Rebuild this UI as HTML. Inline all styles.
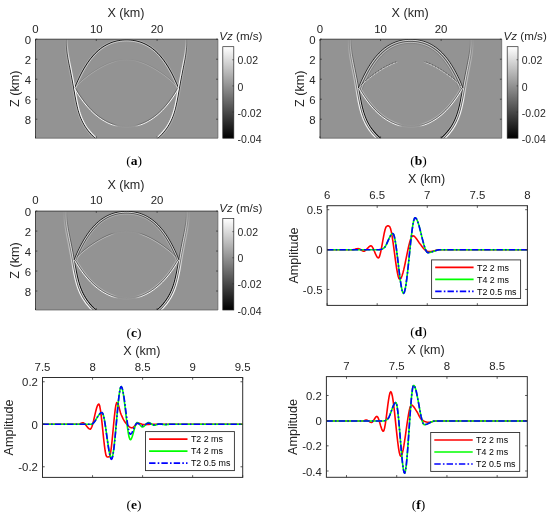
<!DOCTYPE html>
<html><head><meta charset="utf-8"><title>Figure</title>
<style>html,body{margin:0;padding:0;background:#fff}svg{display:block}.tk{font-family:"Liberation Sans", Arial, Helvetica, sans-serif;font-size:11.4px;fill:#262626}.ck{font-family:"Liberation Sans", Arial, Helvetica, sans-serif;font-size:10.5px;fill:#262626}.ct{font-family:"Liberation Sans", Arial, Helvetica, sans-serif;font-size:11.6px;fill:#262626}.lb{font-family:"Liberation Sans", Arial, Helvetica, sans-serif;font-size:12.6px;fill:#262626}.lg{font-family:"Liberation Sans", Arial, Helvetica, sans-serif;font-size:8.9px;fill:#000}.cap{font-family:"Liberation Serif", "Times New Roman", serif;font-size:13.5px;fill:#000}</style></head><body>
<svg width="550" height="516" viewBox="0 0 550 516">
<rect width="550" height="516" fill="#fff"/>
<defs><linearGradient id="cbg" x1="0" y1="0" x2="0" y2="1"><stop offset="0" stop-color="#fff"/><stop offset="1" stop-color="#000"/></linearGradient></defs>
<clipPath id="clip1"><rect x="35.5" y="39.2" width="182.4" height="99"/></clipPath>
<rect x="35.5" y="39.2" width="182.4" height="99" fill="#939393"/>
<g clip-path="url(#clip1)" fill="none">
<path d="M73.64 88.14 L73.69 88.03 L73.81 87.72 L74.03 87.2 L74.32 86.48 L74.7 85.56 L75.16 84.47 L75.71 83.2 L76.34 81.77 L77.04 80.2 L77.83 78.5 L78.7 76.69 L79.64 74.79 L80.66 72.81 L81.75 70.77 L82.92 68.69 L84.15 66.59 L85.46 64.5 L86.83 62.41 L88.27 60.36 L89.77 58.36 L91.33 56.41 L92.95 54.54 L94.63 52.76 L96.36 51.07 L98.14 49.48 L99.97 48 L101.84 46.63 L103.76 45.38 L105.71 44.24 L107.7 43.23 L109.72 42.33 L111.76 41.55 L113.83 40.88 L115.92 40.32 L118.03 39.86 L120.15 39.51 L122.28 39.27 L124.41 39.12 L126.55 39.07 L128.69 39.12 L130.82 39.27 L132.95 39.51 L135.07 39.86 L137.18 40.32 L139.27 40.88 L141.34 41.55 L143.38 42.33 L145.4 43.23 L147.39 44.24 L149.34 45.38 L151.26 46.63 L153.13 48 L154.96 49.48 L156.74 51.07 L158.47 52.76 L160.15 54.54 L161.77 56.41 L163.33 58.36 L164.83 60.36 L166.27 62.41 L167.64 64.5 L168.95 66.59 L170.18 68.69 L171.35 70.77 L172.44 72.81 L173.46 74.79 L174.4 76.69 L175.27 78.5 L176.06 80.2 L176.76 81.77 L177.39 83.2 L177.94 84.47 L178.4 85.56 L178.78 86.48 L179.07 87.2 L179.29 87.72 L179.41 88.03 L179.46 88.14" stroke="#fff" stroke-width="0.6" stroke-opacity="0.45"/>
<path d="M74.48 88.47 L74.52 88.37 L74.65 88.05 L74.86 87.54 L75.15 86.82 L75.53 85.91 L75.99 84.82 L76.53 83.56 L77.16 82.14 L77.86 80.58 L78.65 78.89 L79.51 77.08 L80.44 75.19 L81.45 73.22 L82.54 71.2 L83.7 69.14 L84.92 67.06 L86.22 64.98 L87.57 62.92 L89 60.89 L90.48 58.91 L92.02 56.99 L93.62 55.14 L95.27 53.39 L96.97 51.72 L98.72 50.16 L100.51 48.71 L102.35 47.37 L104.23 46.14 L106.14 45.03 L108.09 44.04 L110.06 43.16 L112.06 42.39 L114.09 41.74 L116.13 41.19 L118.2 40.75 L120.27 40.4 L122.36 40.16 L124.45 40.02 L126.55 39.97 L128.65 40.02 L130.74 40.16 L132.83 40.4 L134.9 40.75 L136.97 41.19 L139.01 41.74 L141.04 42.39 L143.04 43.16 L145.01 44.04 L146.96 45.03 L148.87 46.14 L150.75 47.37 L152.59 48.71 L154.38 50.16 L156.13 51.72 L157.83 53.39 L159.48 55.14 L161.08 56.99 L162.62 58.91 L164.1 60.89 L165.53 62.92 L166.88 64.98 L168.18 67.06 L169.4 69.14 L170.56 71.2 L171.65 73.22 L172.66 75.19 L173.59 77.08 L174.45 78.89 L175.24 80.58 L175.94 82.14 L176.57 83.56 L177.11 84.82 L177.57 85.91 L177.95 86.82 L178.24 87.54 L178.45 88.05 L178.58 88.37 L178.62 88.47" stroke="#000" stroke-width="1" stroke-opacity="0.85"/>
<path d="M75.31 88.81 L75.36 88.71 L75.48 88.39 L75.69 87.88 L75.98 87.16 L76.36 86.26 L76.82 85.17 L77.36 83.92 L77.98 82.5 L78.68 80.95 L79.46 79.27 L80.32 77.48 L81.25 75.6 L82.25 73.64 L83.33 71.63 L84.48 69.59 L85.69 67.53 L86.97 65.47 L88.32 63.42 L89.72 61.42 L91.19 59.46 L92.71 57.56 L94.29 55.75 L95.91 54.02 L97.58 52.38 L99.3 50.85 L101.06 49.42 L102.86 48.11 L104.7 46.91 L106.57 45.82 L108.47 44.85 L110.4 43.99 L112.36 43.24 L114.34 42.6 L116.35 42.07 L118.37 41.63 L120.4 41.3 L122.44 41.06 L124.49 40.92 L126.55 40.87 L128.61 40.92 L130.66 41.06 L132.7 41.3 L134.74 41.63 L136.75 42.07 L138.76 42.6 L140.74 43.24 L142.7 43.99 L144.63 44.85 L146.53 45.82 L148.4 46.91 L150.24 48.11 L152.04 49.42 L153.8 50.85 L155.52 52.38 L157.19 54.02 L158.81 55.75 L160.39 57.56 L161.91 59.46 L163.38 61.42 L164.78 63.42 L166.13 65.47 L167.41 67.53 L168.62 69.59 L169.77 71.63 L170.85 73.64 L171.85 75.6 L172.78 77.48 L173.64 79.27 L174.42 80.95 L175.12 82.5 L175.74 83.92 L176.28 85.17 L176.74 86.26 L177.12 87.16 L177.41 87.88 L177.62 88.39 L177.75 88.71 L177.79 88.81" stroke="#fff" stroke-width="0.8" stroke-opacity="0.7"/>
<linearGradient id="sw1" gradientUnits="userSpaceOnUse" x1="0" y1="39.2" x2="0" y2="138.2">
<stop offset="0" stop-color="#fff" stop-opacity="0.12"/>
<stop offset="0.1" stop-color="#fff" stop-opacity="0.5"/>
<stop offset="0.22" stop-color="#fff" stop-opacity="0.85"/>
<stop offset="0.45" stop-color="#fff" stop-opacity="1"/>
<stop offset="1" stop-color="#fff" stop-opacity="1"/>
</linearGradient>
<linearGradient id="sb1" gradientUnits="userSpaceOnUse" x1="0" y1="39.2" x2="0" y2="138.2">
<stop offset="0" stop-color="#000" stop-opacity="0.12"/>
<stop offset="0.1" stop-color="#000" stop-opacity="0.5"/>
<stop offset="0.22" stop-color="#000" stop-opacity="0.85"/>
<stop offset="0.45" stop-color="#000" stop-opacity="1"/>
<stop offset="1" stop-color="#000" stop-opacity="1"/>
</linearGradient>
<linearGradient id="sx1" gradientUnits="userSpaceOnUse" x1="0" y1="39.2" x2="0" y2="138.2">
<stop offset="0" stop-color="#fff" stop-opacity="0.03"/>
<stop offset="0.2" stop-color="#fff" stop-opacity="0.3"/>
<stop offset="0.48" stop-color="#fff" stop-opacity="0.5"/>
<stop offset="0.62" stop-color="#fff" stop-opacity="0.95"/>
<stop offset="1" stop-color="#fff" stop-opacity="1"/>
</linearGradient>
<path d="M65.41 39.15 L65.31 41.2 L65.3 43.27 L65.37 45.34 L65.5 47.4 L65.69 49.46 L65.93 51.51 L66.21 53.56 L66.53 55.6 L66.87 57.65 L67.24 59.69 L67.63 61.73 L68.02 63.76 L68.43 65.79 L68.84 67.83 L69.25 69.86 L69.66 71.89 L70.06 73.91 L70.46 75.94 L70.85 77.97 L71.24 80 L71.61 82.02 L71.98 84.05 L72.35 86.08 L72.7 88.11 L73.06 90.14 L73.41 92.17 L73.77 94.2 L74.13 96.24 L74.51 98.27 L74.89 100.31 L75.3 102.35 L75.74 104.39 L76.2 106.44 L76.7 108.49 L77.25 110.54 L77.86 112.6 L78.52 114.65 L79.26 116.72 L80.07 118.78 L80.98 120.84 L81.99 122.91 L83.11 124.98 L84.35 127.05 L85.73 129.12 L87.25 131.19 L88.94 133.26 L90.79 135.33 L92.84 137.39 L95.06 139.44" stroke="url(#sw1)" stroke-width="0.6" stroke-opacity="0.4"/>
<path d="M66.41 39.2 L66.31 41.23 L66.3 43.26 L66.37 45.29 L66.5 47.32 L66.68 49.35 L66.92 51.38 L67.2 53.41 L67.51 55.44 L67.86 57.48 L68.22 59.51 L68.61 61.54 L69 63.57 L69.41 65.6 L69.82 67.63 L70.23 69.66 L70.64 71.69 L71.04 73.72 L71.44 75.75 L71.83 77.78 L72.22 79.81 L72.6 81.84 L72.97 83.87 L73.33 85.9 L73.69 87.93 L74.04 89.97 L74.4 92 L74.76 94.03 L75.12 96.06 L75.49 98.09 L75.88 100.12 L76.28 102.15 L76.71 104.18 L77.17 106.21 L77.67 108.24 L78.22 110.27 L78.81 112.3 L79.47 114.33 L80.19 116.36 L81 118.39 L81.89 120.42 L82.88 122.46 L83.98 124.49 L85.2 126.52 L86.55 128.55 L88.04 130.58 L89.7 132.61 L91.52 134.64 L93.53 136.67 L95.74 138.7" stroke="url(#sb1)" stroke-width="0.9" stroke-opacity="0.85"/>
<path d="M67.41 39.25 L67.31 41.26 L67.3 43.25 L67.36 45.24 L67.49 47.24 L67.68 49.25 L67.91 51.26 L68.19 53.27 L68.5 55.28 L68.84 57.3 L69.21 59.32 L69.59 61.35 L69.99 63.37 L70.39 65.4 L70.8 67.43 L71.21 69.46 L71.62 71.49 L72.02 73.53 L72.42 75.56 L72.82 77.59 L73.2 79.63 L73.58 81.66 L73.95 83.7 L74.31 85.73 L74.67 87.76 L75.03 89.79 L75.38 91.82 L75.74 93.85 L76.1 95.88 L76.47 97.9 L76.86 99.93 L77.26 101.95 L77.69 103.97 L78.15 105.98 L78.64 107.99 L79.18 110 L79.77 112.01 L80.41 114.01 L81.13 116.01 L81.92 118.01 L82.8 120 L83.77 122 L84.85 123.99 L86.04 125.98 L87.37 127.97 L88.83 129.96 L90.46 131.96 L92.25 133.95 L94.22 135.95 L96.41 137.96" stroke="url(#sw1)" stroke-width="1.1" stroke-opacity="0.95"/>
<path d="M187.69 39.15 L187.79 41.2 L187.8 43.27 L187.73 45.34 L187.6 47.4 L187.41 49.46 L187.17 51.51 L186.89 53.56 L186.57 55.6 L186.23 57.65 L185.86 59.69 L185.47 61.73 L185.08 63.76 L184.67 65.79 L184.26 67.83 L183.85 69.86 L183.44 71.89 L183.04 73.91 L182.64 75.94 L182.25 77.97 L181.86 80 L181.49 82.02 L181.12 84.05 L180.75 86.08 L180.4 88.11 L180.04 90.14 L179.69 92.17 L179.33 94.2 L178.97 96.24 L178.59 98.27 L178.21 100.31 L177.8 102.35 L177.36 104.39 L176.9 106.44 L176.4 108.49 L175.85 110.54 L175.24 112.6 L174.58 114.65 L173.84 116.72 L173.03 118.78 L172.12 120.84 L171.11 122.91 L169.99 124.98 L168.75 127.05 L167.37 129.12 L165.85 131.19 L164.16 133.26 L162.31 135.33 L160.26 137.39 L158.04 139.44" stroke="url(#sw1)" stroke-width="0.6" stroke-opacity="0.4"/>
<path d="M186.69 39.2 L186.79 41.23 L186.8 43.26 L186.74 45.29 L186.6 47.32 L186.42 49.35 L186.18 51.38 L185.9 53.41 L185.59 55.44 L185.24 57.48 L184.88 59.51 L184.49 61.54 L184.1 63.57 L183.69 65.6 L183.28 67.63 L182.87 69.66 L182.46 71.69 L182.06 73.72 L181.66 75.75 L181.27 77.78 L180.88 79.81 L180.5 81.84 L180.13 83.87 L179.77 85.9 L179.41 87.93 L179.06 89.97 L178.7 92 L178.35 94.03 L177.98 96.06 L177.61 98.09 L177.22 100.12 L176.82 102.15 L176.39 104.18 L175.93 106.21 L175.43 108.24 L174.88 110.27 L174.29 112.3 L173.63 114.33 L172.91 116.36 L172.1 118.39 L171.21 120.42 L170.22 122.46 L169.12 124.49 L167.9 126.52 L166.55 128.55 L165.06 130.58 L163.4 132.61 L161.58 134.64 L159.57 136.67 L157.36 138.7" stroke="url(#sb1)" stroke-width="0.9" stroke-opacity="0.85"/>
<path d="M185.69 39.25 L185.79 41.26 L185.8 43.25 L185.74 45.24 L185.61 47.24 L185.42 49.25 L185.19 51.26 L184.91 53.27 L184.6 55.28 L184.26 57.3 L183.89 59.32 L183.51 61.35 L183.11 63.37 L182.71 65.4 L182.3 67.43 L181.89 69.46 L181.48 71.49 L181.08 73.53 L180.68 75.56 L180.28 77.59 L179.9 79.63 L179.52 81.66 L179.15 83.7 L178.79 85.73 L178.43 87.76 L178.07 89.79 L177.72 91.82 L177.36 93.85 L177 95.88 L176.63 97.9 L176.24 99.93 L175.84 101.95 L175.41 103.97 L174.95 105.98 L174.46 107.99 L173.92 110 L173.33 112.01 L172.69 114.01 L171.97 116.01 L171.18 118.01 L170.3 120 L169.33 122 L168.25 123.99 L167.06 125.98 L165.73 127.97 L164.27 129.96 L162.64 131.96 L160.85 133.95 L158.88 135.95 L156.69 137.96" stroke="url(#sw1)" stroke-width="1.1" stroke-opacity="0.95"/>
</g>
<linearGradient id="uw1" gradientUnits="userSpaceOnUse" x1="74.48" y1="0" x2="178.62" y2="0">
<stop offset="0" stop-color="#fff" stop-opacity="0.9"/>
<stop offset="0.25" stop-color="#fff" stop-opacity="0.6"/>
<stop offset="0.36" stop-color="#fff" stop-opacity="0.5"/>
<stop offset="0.42" stop-color="#fff" stop-opacity="0.15"/>
<stop offset="0.58" stop-color="#fff" stop-opacity="0.15"/>
<stop offset="0.64" stop-color="#fff" stop-opacity="0.5"/>
<stop offset="0.75" stop-color="#fff" stop-opacity="0.6"/>
<stop offset="1" stop-color="#fff" stop-opacity="0.9"/>
</linearGradient>
<linearGradient id="ub1" gradientUnits="userSpaceOnUse" x1="74.48" y1="0" x2="178.62" y2="0">
<stop offset="0" stop-color="#000" stop-opacity="0.9"/>
<stop offset="0.25" stop-color="#000" stop-opacity="0.6"/>
<stop offset="0.36" stop-color="#000" stop-opacity="0.5"/>
<stop offset="0.42" stop-color="#000" stop-opacity="0.15"/>
<stop offset="0.58" stop-color="#000" stop-opacity="0.15"/>
<stop offset="0.64" stop-color="#000" stop-opacity="0.5"/>
<stop offset="0.75" stop-color="#000" stop-opacity="0.6"/>
<stop offset="1" stop-color="#000" stop-opacity="0.9"/>
</linearGradient>
<linearGradient id="lw1" gradientUnits="userSpaceOnUse" x1="74.48" y1="0" x2="178.62" y2="0">
<stop offset="0" stop-color="#fff" stop-opacity="1"/>
<stop offset="0.36" stop-color="#fff" stop-opacity="0.9"/>
<stop offset="0.42" stop-color="#fff" stop-opacity="0.05"/>
<stop offset="0.58" stop-color="#fff" stop-opacity="0.05"/>
<stop offset="0.64" stop-color="#fff" stop-opacity="0.9"/>
<stop offset="1" stop-color="#fff" stop-opacity="1"/>
</linearGradient>
<linearGradient id="lb1" gradientUnits="userSpaceOnUse" x1="74.48" y1="0" x2="178.62" y2="0">
<stop offset="0" stop-color="#000" stop-opacity="1"/>
<stop offset="0.36" stop-color="#000" stop-opacity="0.9"/>
<stop offset="0.42" stop-color="#000" stop-opacity="0.05"/>
<stop offset="0.58" stop-color="#000" stop-opacity="0.05"/>
<stop offset="0.64" stop-color="#000" stop-opacity="0.9"/>
<stop offset="1" stop-color="#000" stop-opacity="1"/>
</linearGradient>
<g clip-path="url(#clip1)" fill="none">
<path d="M74.48 88.52 L74.55 88.44 L74.78 88.17 L75.16 87.73 L75.7 87.13 L76.38 86.37 L77.2 85.49 L78.18 84.48 L79.29 83.38 L80.54 82.19 L81.93 80.93 L83.45 79.61 L85.1 78.24 L86.86 76.85 L88.75 75.42 L90.74 73.98 L92.84 72.53 L95.04 71.09 L97.33 69.66 L99.7 68.26 L102.16 66.91 L104.69 65.62 L107.28 64.41 L109.92 63.31 L112.62 62.33 L115.36 61.5 L118.13 60.84 L120.92 60.35 L123.73 60.05 L126.55 59.95 L129.37 60.05 L132.18 60.35 L134.97 60.84 L137.74 61.5 L140.48 62.33 L143.18 63.31 L145.82 64.41 L148.41 65.62 L150.94 66.91 L153.4 68.26 L155.77 69.66 L158.06 71.09 L160.26 72.53 L162.36 73.98 L164.35 75.42 L166.24 76.85 L168 78.24 L169.65 79.61 L171.17 80.93 L172.56 82.19 L173.81 83.38 L174.92 84.48 L175.9 85.49 L176.72 86.37 L177.4 87.13 L177.94 87.73 L178.32 88.17 L178.55 88.44 L178.62 88.52" stroke="url(#uw1)" stroke-width="0.6" stroke-opacity="0.55"/>
<path d="M74.02 88.14 L74.1 88.05 L74.33 87.78 L74.71 87.33 L75.25 86.73 L75.94 85.97 L76.77 85.07 L77.75 84.06 L78.87 82.95 L80.14 81.75 L81.53 80.48 L83.06 79.15 L84.72 77.78 L86.5 76.37 L88.39 74.94 L90.39 73.49 L92.5 72.03 L94.71 70.58 L97.02 69.15 L99.41 67.74 L101.88 66.38 L104.42 65.08 L107.03 63.86 L109.71 62.75 L112.43 61.77 L115.2 60.93 L118 60.25 L120.84 59.75 L123.69 59.45 L126.55 59.35 L129.41 59.45 L132.26 59.75 L135.1 60.25 L137.9 60.93 L140.67 61.77 L143.39 62.75 L146.07 63.86 L148.68 65.08 L151.22 66.38 L153.69 67.74 L156.08 69.15 L158.39 70.58 L160.6 72.03 L162.71 73.49 L164.71 74.94 L166.6 76.37 L168.38 77.78 L170.04 79.15 L171.57 80.48 L172.96 81.75 L174.23 82.95 L175.35 84.06 L176.33 85.07 L177.16 85.97 L177.85 86.73 L178.39 87.33 L178.77 87.78 L179 88.05 L179.08 88.14" stroke="url(#ub1)" stroke-width="0.5" stroke-opacity="0.3"/>
<path d="M74.48 88.23 L74.55 88.37 L74.78 88.76 L75.16 89.42 L75.7 90.32 L76.38 91.45 L77.2 92.8 L78.18 94.34 L79.29 96.05 L80.54 97.9 L81.93 99.86 L83.45 101.91 L85.1 104.02 L86.86 106.16 L88.75 108.29 L90.74 110.41 L92.84 112.47 L95.04 114.46 L97.33 116.35 L99.7 118.14 L102.16 119.79 L104.69 121.3 L107.28 122.66 L109.92 123.86 L112.62 124.88 L115.36 125.72 L118.13 126.38 L120.92 126.86 L123.73 127.15 L126.55 127.24 L129.37 127.15 L132.18 126.86 L134.97 126.38 L137.74 125.72 L140.48 124.88 L143.18 123.86 L145.82 122.66 L148.41 121.3 L150.94 119.79 L153.4 118.14 L155.77 116.35 L158.06 114.46 L160.26 112.47 L162.36 110.41 L164.35 108.29 L166.24 106.16 L168 104.02 L169.65 101.91 L171.17 99.86 L172.56 97.9 L173.81 96.05 L174.92 94.34 L175.9 92.8 L176.72 91.45 L177.4 90.32 L177.94 89.42 L178.32 88.76 L178.55 88.37 L178.62 88.23" stroke="url(#lw1)" stroke-width="1.0" stroke-opacity="1"/>
<path d="M75.26 87.78 L75.34 87.92 L75.56 88.31 L75.94 88.96 L76.47 89.86 L77.15 90.99 L77.97 92.33 L78.93 93.86 L80.04 95.55 L81.28 97.39 L82.66 99.34 L84.17 101.37 L85.8 103.46 L87.55 105.57 L89.41 107.69 L91.38 109.78 L93.46 111.81 L95.63 113.78 L97.89 115.65 L100.23 117.4 L102.64 119.03 L105.13 120.52 L107.67 121.85 L110.27 123.03 L112.91 124.03 L115.59 124.85 L118.31 125.5 L121.04 125.97 L123.79 126.25 L126.55 126.34 L129.31 126.25 L132.06 125.97 L134.79 125.5 L137.51 124.85 L140.19 124.03 L142.83 123.03 L145.43 121.85 L147.97 120.52 L150.46 119.03 L152.87 117.4 L155.21 115.65 L157.47 113.78 L159.64 111.81 L161.72 109.78 L163.69 107.69 L165.55 105.57 L167.3 103.46 L168.93 101.37 L170.44 99.34 L171.82 97.39 L173.06 95.55 L174.17 93.86 L175.13 92.33 L175.95 90.99 L176.63 89.86 L177.16 88.96 L177.54 88.31 L177.77 87.92 L177.84 87.78" stroke="url(#lb1)" stroke-width="0.6" stroke-opacity="0.55"/>
</g>
<path d="M35.5 138.2 H217.9 V39.2" fill="none" stroke="#5a5a5a" stroke-width="0.7"/>
<path d="M35.5 138.2 V39.2 H217.9" fill="none" stroke="#262626" stroke-width="0.8"/>
<path d="M35.5 39.2 v1.8 M35.5 138.2 v-1.8" stroke="#262626" stroke-width="0.7"/>
<text x="35.5" y="32.5" text-anchor="middle" class="tk">0</text>
<path d="M96.3 39.2 v1.8 M96.3 138.2 v-1.8" stroke="#262626" stroke-width="0.7"/>
<text x="96.3" y="32.5" text-anchor="middle" class="tk">10</text>
<path d="M157.1 39.2 v1.8 M157.1 138.2 v-1.8" stroke="#262626" stroke-width="0.7"/>
<text x="157.1" y="32.5" text-anchor="middle" class="tk">20</text>
<path d="M35.5 39.2 h1.8 M217.9 39.2 h-1.8" stroke="#262626" stroke-width="0.7"/>
<text x="31.2" y="44" text-anchor="end" class="tk">0</text>
<path d="M35.5 59.2 h1.8 M217.9 59.2 h-1.8" stroke="#262626" stroke-width="0.7"/>
<text x="31.2" y="64" text-anchor="end" class="tk">2</text>
<path d="M35.5 79.2 h1.8 M217.9 79.2 h-1.8" stroke="#262626" stroke-width="0.7"/>
<text x="31.2" y="84" text-anchor="end" class="tk">4</text>
<path d="M35.5 99.2 h1.8 M217.9 99.2 h-1.8" stroke="#262626" stroke-width="0.7"/>
<text x="31.2" y="104" text-anchor="end" class="tk">6</text>
<path d="M35.5 119.2 h1.8 M217.9 119.2 h-1.8" stroke="#262626" stroke-width="0.7"/>
<text x="31.2" y="124" text-anchor="end" class="tk">8</text>
<text x="126" y="16.7" text-anchor="middle" class="lb">X (km)</text>
<text transform="translate(19.3 88.7) rotate(-90)" text-anchor="middle" class="lb">Z (km)</text>
<rect x="222.8" y="46.7" width="11" height="91.5" fill="url(#cbg)" stroke="#262626" stroke-width="0.7"/>
<text x="237.6" y="64.37" class="ck">0.02</text>
<path d="M233.8 59.77 h-1.5" stroke="#262626" stroke-width="0.6"/>
<text x="237.6" y="90.51" class="ck">0</text>
<path d="M233.8 85.91 h-1.5" stroke="#262626" stroke-width="0.6"/>
<text x="237.6" y="116.66" class="ck">-0.02</text>
<path d="M233.8 112.06 h-1.5" stroke="#262626" stroke-width="0.6"/>
<text x="237.6" y="142.8" class="ck">-0.04</text>
<text x="240.9" y="40.4" text-anchor="middle" class="ct"><tspan font-style="italic">Vz</tspan> (m/s)</text>
<clipPath id="clip2"><rect x="320" y="39.2" width="181.7" height="99"/></clipPath>
<rect x="320" y="39.2" width="181.7" height="99" fill="#939393"/>
<g clip-path="url(#clip2)" fill="none">
<path d="M358.27 88.25 L358.31 88.14 L358.44 87.83 L358.65 87.31 L358.95 86.59 L359.32 85.68 L359.78 84.59 L360.33 83.32 L360.95 81.9 L361.65 80.33 L362.44 78.63 L363.3 76.82 L364.23 74.92 L365.25 72.95 L366.33 70.91 L367.49 68.84 L368.72 66.75 L370.01 64.66 L371.38 62.58 L372.8 60.54 L374.29 58.54 L375.84 56.6 L377.45 54.74 L379.11 52.97 L380.82 51.29 L382.59 49.71 L384.4 48.23 L386.25 46.88 L388.15 45.63 L390.08 44.51 L392.05 43.5 L394.04 42.61 L396.07 41.83 L398.12 41.16 L400.18 40.61 L402.27 40.16 L404.36 39.81 L406.47 39.56 L408.58 39.42 L410.7 39.37 L412.82 39.42 L414.93 39.56 L417.04 39.81 L419.13 40.16 L421.22 40.61 L423.29 41.16 L425.33 41.83 L427.36 42.61 L429.35 43.5 L431.32 44.51 L433.25 45.63 L435.15 46.88 L437 48.23 L438.81 49.71 L440.58 51.29 L442.29 52.97 L443.95 54.74 L445.56 56.6 L447.11 58.54 L448.6 60.54 L450.02 62.58 L451.39 64.66 L452.68 66.75 L453.91 68.84 L455.07 70.91 L456.15 72.95 L457.17 74.92 L458.1 76.82 L458.96 78.63 L459.75 80.33 L460.45 81.9 L461.07 83.32 L461.62 84.59 L462.08 85.68 L462.46 86.59 L462.75 87.31 L462.96 87.83 L463.09 88.14 L463.13 88.25" stroke="#000" stroke-width="0.9" stroke-opacity="0.8"/>
<path d="M359.11 88.58 L359.15 88.48 L359.28 88.17 L359.49 87.65 L359.78 86.93 L360.15 86.03 L360.61 84.94 L361.15 83.68 L361.77 82.26 L362.47 80.7 L363.25 79.01 L364.11 77.22 L365.04 75.33 L366.04 73.36 L367.12 71.34 L368.27 69.29 L369.49 67.22 L370.77 65.14 L372.12 63.09 L373.53 61.06 L375.01 59.09 L376.53 57.18 L378.12 55.35 L379.75 53.6 L381.44 51.94 L383.17 50.39 L384.95 48.95 L386.77 47.62 L388.62 46.4 L390.51 45.3 L392.44 44.31 L394.39 43.44 L396.37 42.68 L398.37 42.03 L400.4 41.48 L402.44 41.04 L404.49 40.7 L406.55 40.46 L408.63 40.32 L410.7 40.27 L412.78 40.32 L414.85 40.46 L416.91 40.7 L418.97 41.04 L421.01 41.48 L423.03 42.03 L425.03 42.68 L427.01 43.44 L428.96 44.31 L430.89 45.3 L432.78 46.4 L434.64 47.62 L436.45 48.95 L438.23 50.39 L439.96 51.94 L441.65 53.6 L443.28 55.35 L444.87 57.18 L446.4 59.09 L447.87 61.06 L449.28 63.09 L450.63 65.14 L451.91 67.22 L453.13 69.29 L454.28 71.34 L455.36 73.36 L456.36 75.33 L457.29 77.22 L458.15 79.01 L458.93 80.7 L459.63 82.26 L460.25 83.68 L460.79 84.94 L461.25 86.03 L461.62 86.93 L461.92 87.65 L462.13 88.17 L462.25 88.48 L462.29 88.58" stroke="#fff" stroke-width="0.8" stroke-opacity="0.75"/>
<path d="M360.13 88.99 L360.17 88.89 L360.29 88.58 L360.5 88.07 L360.8 87.35 L361.17 86.45 L361.62 85.37 L362.16 84.12 L362.78 82.71 L363.47 81.16 L364.25 79.48 L365.1 77.7 L366.02 75.82 L367.02 73.87 L368.09 71.87 L369.23 69.84 L370.43 67.78 L371.7 65.73 L373.03 63.7 L374.43 61.71 L375.88 59.76 L377.38 57.88 L378.94 56.08 L380.54 54.36 L382.19 52.74 L383.89 51.23 L385.62 49.82 L387.39 48.52 L389.2 47.33 L391.04 46.26 L392.91 45.3 L394.81 44.45 L396.74 43.71 L398.69 43.08 L400.65 42.55 L402.64 42.12 L404.64 41.79 L406.66 41.56 L408.68 41.42 L410.7 41.37 L412.72 41.42 L414.74 41.56 L416.76 41.79 L418.76 42.12 L420.75 42.55 L422.72 43.08 L424.66 43.71 L426.59 44.45 L428.49 45.3 L430.36 46.26 L432.2 47.33 L434.01 48.52 L435.78 49.82 L437.52 51.23 L439.21 52.74 L440.86 54.36 L442.47 56.08 L444.02 57.88 L445.53 59.76 L446.98 61.71 L448.37 63.7 L449.7 65.73 L450.97 67.78 L452.18 69.84 L453.31 71.87 L454.38 73.87 L455.38 75.82 L456.3 77.7 L457.15 79.48 L457.93 81.16 L458.62 82.71 L459.24 84.12 L459.78 85.37 L460.23 86.45 L460.61 87.35 L460.9 88.07 L461.11 88.58 L461.23 88.89 L461.27 88.99" stroke="#000" stroke-width="0.7" stroke-opacity="0.6"/>
<path d="M361.06 89.37 L361.1 89.27 L361.22 88.96 L361.43 88.44 L361.72 87.73 L362.09 86.84 L362.55 85.76 L363.08 84.51 L363.69 83.11 L364.38 81.57 L365.15 79.9 L366 78.13 L366.91 76.27 L367.9 74.34 L368.97 72.35 L370.09 70.33 L371.29 68.3 L372.54 66.27 L373.86 64.26 L375.24 62.29 L376.67 60.37 L378.15 58.52 L379.68 56.75 L381.26 55.06 L382.88 53.47 L384.54 51.99 L386.23 50.61 L387.96 49.34 L389.73 48.18 L391.52 47.14 L393.34 46.2 L395.19 45.38 L397.07 44.66 L398.97 44.04 L400.89 43.52 L402.83 43.1 L404.78 42.78 L406.75 42.55 L408.72 42.41 L410.7 42.37 L412.68 42.41 L414.65 42.55 L416.62 42.78 L418.57 43.1 L420.51 43.52 L422.43 44.04 L424.33 44.66 L426.21 45.38 L428.06 46.2 L429.88 47.14 L431.67 48.18 L433.44 49.34 L435.17 50.61 L436.87 51.99 L438.53 53.47 L440.14 55.06 L441.72 56.75 L443.25 58.52 L444.73 60.37 L446.16 62.29 L447.54 64.26 L448.86 66.27 L450.11 68.3 L451.31 70.33 L452.44 72.35 L453.5 74.34 L454.49 76.27 L455.4 78.13 L456.25 79.9 L457.02 81.57 L457.71 83.11 L458.32 84.51 L458.86 85.76 L459.31 86.84 L459.68 87.73 L459.97 88.44 L460.18 88.96 L460.3 89.27 L460.35 89.37" stroke="#fff" stroke-width="0.7" stroke-opacity="0.6"/>
<path d="M361.89 89.7 L361.93 89.6 L362.06 89.29 L362.26 88.78 L362.55 88.08 L362.92 87.18 L363.37 86.11 L363.9 84.87 L364.52 83.48 L365.2 81.94 L365.97 80.29 L366.81 78.52 L367.72 76.67 L368.7 74.75 L369.75 72.78 L370.87 70.78 L372.06 68.77 L373.3 66.76 L374.61 64.77 L375.97 62.82 L377.38 60.92 L378.84 59.1 L380.35 57.35 L381.9 55.69 L383.49 54.13 L385.12 52.67 L386.78 51.32 L388.48 50.08 L390.2 48.95 L391.95 47.93 L393.73 47.02 L395.54 46.21 L397.37 45.51 L399.23 44.9 L401.1 44.4 L403 43.99 L404.91 43.67 L406.83 43.45 L408.76 43.31 L410.7 43.27 L412.64 43.31 L414.57 43.45 L416.49 43.67 L418.4 43.99 L420.3 44.4 L422.18 44.9 L424.03 45.51 L425.86 46.21 L427.67 47.02 L429.45 47.93 L431.2 48.95 L432.93 50.08 L434.62 51.32 L436.28 52.67 L437.91 54.13 L439.5 55.69 L441.05 57.35 L442.56 59.1 L444.02 60.92 L445.43 62.82 L446.79 64.77 L448.1 66.76 L449.34 68.77 L450.53 70.78 L451.65 72.78 L452.7 74.75 L453.68 76.67 L454.59 78.52 L455.43 80.29 L456.2 81.94 L456.89 83.48 L457.5 84.87 L458.03 86.11 L458.48 87.18 L458.85 88.08 L459.14 88.78 L459.35 89.29 L459.47 89.6 L459.51 89.7" stroke="#000" stroke-width="0.5" stroke-opacity="0.25"/>
<linearGradient id="sw2" gradientUnits="userSpaceOnUse" x1="0" y1="39.2" x2="0" y2="138.2">
<stop offset="0" stop-color="#fff" stop-opacity="0.12"/>
<stop offset="0.1" stop-color="#fff" stop-opacity="0.5"/>
<stop offset="0.22" stop-color="#fff" stop-opacity="0.85"/>
<stop offset="0.45" stop-color="#fff" stop-opacity="1"/>
<stop offset="1" stop-color="#fff" stop-opacity="1"/>
</linearGradient>
<linearGradient id="sb2" gradientUnits="userSpaceOnUse" x1="0" y1="39.2" x2="0" y2="138.2">
<stop offset="0" stop-color="#000" stop-opacity="0.03"/>
<stop offset="0.2" stop-color="#000" stop-opacity="0.3"/>
<stop offset="0.48" stop-color="#000" stop-opacity="0.5"/>
<stop offset="0.62" stop-color="#000" stop-opacity="0.95"/>
<stop offset="1" stop-color="#000" stop-opacity="1"/>
</linearGradient>
<linearGradient id="sx2" gradientUnits="userSpaceOnUse" x1="0" y1="39.2" x2="0" y2="138.2">
<stop offset="0" stop-color="#fff" stop-opacity="0.03"/>
<stop offset="0.2" stop-color="#fff" stop-opacity="0.3"/>
<stop offset="0.48" stop-color="#fff" stop-opacity="0.5"/>
<stop offset="0.62" stop-color="#fff" stop-opacity="0.95"/>
<stop offset="1" stop-color="#fff" stop-opacity="1"/>
</linearGradient>
<path d="M352.29 39.27 L352.19 41.27 L352.18 43.24 L352.24 45.22 L352.37 47.21 L352.56 49.2 L352.79 51.2 L353.06 53.2 L353.37 55.21 L353.71 57.22 L354.07 59.23 L354.45 61.25 L354.85 63.28 L355.25 65.3 L355.66 67.33 L356.07 69.36 L356.47 71.4 L356.88 73.43 L357.28 75.47 L357.67 77.5 L358.05 79.54 L358.43 81.57 L358.8 83.61 L359.16 85.64 L359.52 87.68 L359.87 89.71 L360.23 91.74 L360.58 93.77 L360.94 95.79 L361.31 97.81 L361.69 99.83 L362.09 101.85 L362.52 103.86 L362.97 105.87 L363.46 107.87 L364 109.87 L364.58 111.86 L365.22 113.85 L365.93 115.84 L366.71 117.82 L367.57 119.8 L368.53 121.77 L369.6 123.74 L370.77 125.72 L372.08 127.69 L373.53 129.66 L375.13 131.63 L376.9 133.61 L378.85 135.59 L381.02 137.6" stroke="url(#sx2)" stroke-width="0.5" stroke-opacity="0.3"/>
<path d="M351.39 39.23 L351.29 41.25 L351.28 43.25 L351.35 45.26 L351.47 47.28 L351.66 49.29 L351.9 51.31 L352.17 53.33 L352.48 55.35 L352.83 57.37 L353.19 59.4 L353.57 61.42 L353.96 63.45 L354.37 65.48 L354.78 67.51 L355.18 69.54 L355.59 71.57 L355.99 73.6 L356.39 75.64 L356.78 77.67 L357.17 79.7 L357.54 81.73 L357.91 83.77 L358.28 85.8 L358.63 87.83 L358.99 89.86 L359.34 91.89 L359.7 93.92 L360.06 95.95 L360.43 97.98 L360.81 100 L361.21 102.03 L361.64 104.05 L362.1 106.07 L362.59 108.09 L363.13 110.11 L363.72 112.13 L364.37 114.14 L365.08 116.15 L365.88 118.16 L366.76 120.17 L367.73 122.18 L368.81 124.19 L370.01 126.2 L371.34 128.2 L372.82 130.21 L374.45 132.22 L376.24 134.23 L378.22 136.24 L380.41 138.26" stroke="url(#sb2)" stroke-width="1.1" stroke-opacity="0.9"/>
<path d="M350.39 39.18 L350.29 41.22 L350.28 43.27 L350.35 45.31 L350.48 47.35 L350.67 49.39 L350.9 51.43 L351.18 53.47 L351.5 55.51 L351.84 57.54 L352.21 59.58 L352.59 61.61 L352.98 63.64 L353.39 65.68 L353.79 67.71 L354.2 69.74 L354.61 71.77 L355.01 73.8 L355.41 75.83 L355.8 77.86 L356.19 79.89 L356.56 81.91 L356.93 83.94 L357.29 85.97 L357.65 88 L358 90.03 L358.35 92.06 L358.71 94.1 L359.07 96.13 L359.44 98.16 L359.83 100.19 L360.23 102.23 L360.66 104.27 L361.12 106.3 L361.62 108.34 L362.17 110.38 L362.76 112.42 L363.42 114.46 L364.15 116.5 L364.95 118.55 L365.85 120.59 L366.84 122.64 L367.94 124.68 L369.17 126.73 L370.52 128.78 L372.03 130.82 L373.68 132.87 L375.51 134.91 L377.53 136.96 L379.73 138.99" stroke="url(#sw2)" stroke-width="0.9" stroke-opacity="0.8"/>
<path d="M349.49 39.14 L349.39 41.2 L349.38 43.28 L349.45 45.35 L349.58 47.42 L349.77 49.49 L350.01 51.55 L350.29 53.6 L350.61 55.65 L350.95 57.7 L351.32 59.74 L351.7 61.78 L352.1 63.82 L352.5 65.85 L352.91 67.88 L353.32 69.92 L353.73 71.94 L354.13 73.97 L354.53 76 L354.92 78.03 L355.3 80.05 L355.68 82.08 L356.04 84.1 L356.4 86.13 L356.76 88.16 L357.12 90.19 L357.47 92.22 L357.82 94.25 L358.19 96.29 L358.56 98.33 L358.95 100.37 L359.35 102.41 L359.78 104.46 L360.25 106.51 L360.75 108.56 L361.3 110.62 L361.9 112.68 L362.57 114.75 L363.3 116.82 L364.12 118.89 L365.03 120.97 L366.04 123.05 L367.16 125.13 L368.41 127.21 L369.79 129.29 L371.31 131.37 L373 133.45 L374.86 135.53 L376.9 137.6 L379.12 139.66" stroke="url(#sb2)" stroke-width="0.6" stroke-opacity="0.65"/>
<path d="M348.49 39.09 L348.39 41.17 L348.38 43.29 L348.45 45.4 L348.58 47.5 L348.78 49.59 L349.02 51.67 L349.3 53.75 L349.62 55.81 L349.97 57.87 L350.34 59.92 L350.72 61.97 L351.12 64.01 L351.52 66.05 L351.93 68.08 L352.34 70.11 L352.75 72.14 L353.15 74.17 L353.55 76.19 L353.94 78.21 L354.32 80.23 L354.69 82.26 L355.06 84.28 L355.42 86.31 L355.78 88.33 L356.13 90.36 L356.48 92.39 L356.84 94.43 L357.2 96.47 L357.58 98.51 L357.96 100.56 L358.37 102.61 L358.81 104.67 L359.28 106.74 L359.78 108.81 L360.34 110.89 L360.95 112.98 L361.62 115.07 L362.37 117.17 L363.2 119.28 L364.12 121.39 L365.15 123.5 L366.29 125.62 L367.56 127.74 L368.97 129.86 L370.52 131.98 L372.24 134.1 L374.13 136.21 L376.21 138.32 L378.45 140.39" stroke="url(#sx2)" stroke-width="1.1" stroke-opacity="0.95"/>
<path d="M469.11 39.27 L469.21 41.27 L469.22 43.24 L469.16 45.22 L469.03 47.21 L468.85 49.2 L468.61 51.2 L468.34 53.2 L468.03 55.21 L467.69 57.22 L467.33 59.23 L466.95 61.25 L466.55 63.28 L466.15 65.3 L465.74 67.33 L465.34 69.36 L464.93 71.4 L464.52 73.43 L464.12 75.47 L463.73 77.5 L463.35 79.54 L462.97 81.57 L462.6 83.61 L462.24 85.64 L461.88 87.68 L461.53 89.71 L461.17 91.74 L460.82 93.77 L460.46 95.79 L460.09 97.81 L459.71 99.83 L459.31 101.85 L458.88 103.86 L458.43 105.87 L457.94 107.87 L457.4 109.87 L456.82 111.86 L456.18 113.85 L455.48 115.84 L454.69 117.82 L453.83 119.8 L452.87 121.77 L451.81 123.74 L450.63 125.72 L449.32 127.69 L447.87 129.66 L446.27 131.63 L444.5 133.61 L442.55 135.59 L440.38 137.6" stroke="url(#sx2)" stroke-width="0.5" stroke-opacity="0.3"/>
<path d="M470.01 39.23 L470.11 41.25 L470.12 43.25 L470.06 45.26 L469.93 47.28 L469.74 49.29 L469.51 51.31 L469.23 53.33 L468.92 55.35 L468.58 57.37 L468.21 59.4 L467.83 61.42 L467.44 63.45 L467.03 65.48 L466.63 67.51 L466.22 69.54 L465.81 71.57 L465.41 73.6 L465.01 75.64 L464.62 77.67 L464.23 79.7 L463.86 81.73 L463.49 83.77 L463.13 85.8 L462.77 87.83 L462.41 89.86 L462.06 91.89 L461.71 93.92 L461.35 95.95 L460.98 97.98 L460.59 100 L460.19 102.03 L459.76 104.05 L459.3 106.07 L458.81 108.09 L458.27 110.11 L457.68 112.13 L457.03 114.14 L456.32 116.15 L455.53 118.16 L454.65 120.17 L453.67 122.18 L452.59 124.19 L451.39 126.2 L450.06 128.2 L448.58 130.21 L446.96 132.22 L445.16 134.23 L443.18 136.24 L440.99 138.26" stroke="url(#sb2)" stroke-width="1.1" stroke-opacity="0.9"/>
<path d="M471.01 39.18 L471.11 41.22 L471.12 43.27 L471.05 45.31 L470.92 47.35 L470.74 49.39 L470.5 51.43 L470.22 53.47 L469.9 55.51 L469.56 57.54 L469.2 59.58 L468.81 61.61 L468.42 63.64 L468.01 65.68 L467.61 67.71 L467.2 69.74 L466.79 71.77 L466.39 73.8 L465.99 75.83 L465.6 77.86 L465.22 79.89 L464.84 81.91 L464.47 83.94 L464.11 85.97 L463.75 88 L463.4 90.03 L463.05 92.06 L462.69 94.1 L462.33 96.13 L461.96 98.16 L461.57 100.19 L461.17 102.23 L460.74 104.27 L460.28 106.3 L459.78 108.34 L459.23 110.38 L458.64 112.42 L457.98 114.46 L457.25 116.5 L456.45 118.55 L455.55 120.59 L454.56 122.64 L453.46 124.68 L452.23 126.73 L450.88 128.78 L449.38 130.82 L447.72 132.87 L445.89 134.91 L443.87 136.96 L441.67 138.99" stroke="url(#sw2)" stroke-width="0.9" stroke-opacity="0.8"/>
<path d="M471.91 39.14 L472.01 41.2 L472.02 43.28 L471.95 45.35 L471.82 47.42 L471.63 49.49 L471.39 51.55 L471.11 53.6 L470.79 55.65 L470.45 57.7 L470.08 59.74 L469.7 61.78 L469.3 63.82 L468.9 65.85 L468.49 67.88 L468.08 69.92 L467.67 71.94 L467.27 73.97 L466.87 76 L466.48 78.03 L466.1 80.05 L465.73 82.08 L465.36 84.1 L465 86.13 L464.64 88.16 L464.29 90.19 L463.93 92.22 L463.58 94.25 L463.22 96.29 L462.84 98.33 L462.46 100.37 L462.05 102.41 L461.62 104.46 L461.15 106.51 L460.65 108.56 L460.1 110.62 L459.5 112.68 L458.83 114.75 L458.1 116.82 L457.28 118.89 L456.37 120.97 L455.36 123.05 L454.24 125.13 L453 127.21 L451.62 129.29 L450.09 131.37 L448.4 133.45 L446.54 135.53 L444.5 137.6 L442.28 139.66" stroke="url(#sb2)" stroke-width="0.6" stroke-opacity="0.65"/>
<path d="M472.91 39.09 L473.01 41.17 L473.02 43.29 L472.95 45.4 L472.82 47.5 L472.63 49.59 L472.38 51.67 L472.1 53.75 L471.78 55.81 L471.43 57.87 L471.06 59.92 L470.68 61.97 L470.28 64.01 L469.88 66.05 L469.47 68.08 L469.06 70.11 L468.65 72.14 L468.25 74.17 L467.86 76.19 L467.47 78.21 L467.08 80.23 L466.71 82.26 L466.34 84.28 L465.98 86.31 L465.63 88.33 L465.27 90.36 L464.92 92.39 L464.56 94.43 L464.2 96.47 L463.83 98.51 L463.44 100.56 L463.03 102.61 L462.59 104.67 L462.13 106.74 L461.62 108.81 L461.06 110.89 L460.45 112.98 L459.78 115.07 L459.03 117.17 L458.2 119.28 L457.28 121.39 L456.25 123.5 L455.11 125.62 L453.84 127.74 L452.44 129.86 L450.88 131.98 L449.16 134.1 L447.27 136.21 L445.19 138.32 L442.96 140.39" stroke="url(#sx2)" stroke-width="1.1" stroke-opacity="0.95"/>
</g>
<linearGradient id="uw2" gradientUnits="userSpaceOnUse" x1="358.83" y1="0" x2="462.57" y2="0">
<stop offset="0" stop-color="#fff" stop-opacity="1"/>
<stop offset="0.35" stop-color="#fff" stop-opacity="1"/>
<stop offset="0.38" stop-color="#fff" stop-opacity="0"/>
<stop offset="0.62" stop-color="#fff" stop-opacity="0"/>
<stop offset="0.65" stop-color="#fff" stop-opacity="1"/>
<stop offset="1" stop-color="#fff" stop-opacity="1"/>
</linearGradient>
<linearGradient id="ub2" gradientUnits="userSpaceOnUse" x1="358.83" y1="0" x2="462.57" y2="0">
<stop offset="0" stop-color="#000" stop-opacity="1"/>
<stop offset="0.35" stop-color="#000" stop-opacity="1"/>
<stop offset="0.38" stop-color="#000" stop-opacity="0"/>
<stop offset="0.62" stop-color="#000" stop-opacity="0"/>
<stop offset="0.65" stop-color="#000" stop-opacity="1"/>
<stop offset="1" stop-color="#000" stop-opacity="1"/>
</linearGradient>
<linearGradient id="lw2" gradientUnits="userSpaceOnUse" x1="358.83" y1="0" x2="462.57" y2="0">
<stop offset="0" stop-color="#fff" stop-opacity="1"/>
<stop offset="0.37" stop-color="#fff" stop-opacity="0.9"/>
<stop offset="0.42" stop-color="#fff" stop-opacity="0.08"/>
<stop offset="0.58" stop-color="#fff" stop-opacity="0.08"/>
<stop offset="0.63" stop-color="#fff" stop-opacity="0.9"/>
<stop offset="1" stop-color="#fff" stop-opacity="1"/>
</linearGradient>
<linearGradient id="lb2" gradientUnits="userSpaceOnUse" x1="358.83" y1="0" x2="462.57" y2="0">
<stop offset="0" stop-color="#000" stop-opacity="1"/>
<stop offset="0.37" stop-color="#000" stop-opacity="0.9"/>
<stop offset="0.42" stop-color="#000" stop-opacity="0.08"/>
<stop offset="0.58" stop-color="#000" stop-opacity="0.08"/>
<stop offset="0.63" stop-color="#000" stop-opacity="0.9"/>
<stop offset="1" stop-color="#000" stop-opacity="1"/>
</linearGradient>
<g clip-path="url(#clip2)" fill="none">
<path d="M358.83 88.52 L358.91 88.44 L359.13 88.17 L359.51 87.73 L360.04 87.13 L360.72 86.37 L361.54 85.49 L362.51 84.48 L363.62 83.38 L364.87 82.19 L366.25 80.93 L367.77 79.61 L369.41 78.24 L371.17 76.85 L373.04 75.42 L375.03 73.98 L377.12 72.53 L379.31 71.09 L381.59 69.66 L383.96 68.26 L386.4 66.91 L388.92 65.62 L391.5 64.41 L394.14 63.31 L396.82 62.33 L399.55 61.5 L402.31 60.84 L405.09 60.35 L407.89 60.05 L410.7 59.95 L413.51 60.05 L416.31 60.35 L419.09 60.84 L421.85 61.5 L424.58 62.33 L427.26 63.31 L429.9 64.41 L432.48 65.62 L435 66.91 L437.44 68.26 L439.81 69.66 L442.09 71.09 L444.28 72.53 L446.37 73.98 L448.36 75.42 L450.24 76.85 L452 78.24 L453.63 79.61 L455.15 80.93 L456.53 82.19 L457.78 83.38 L458.89 84.48 L459.86 85.49 L460.68 86.37 L461.36 87.13 L461.89 87.73 L462.27 88.17 L462.5 88.44 L462.57 88.52" stroke="url(#uw2)" stroke-width="0.8" stroke-opacity="0.7" stroke-dasharray="3 0.8"/>
<path d="M358.22 88.01 L358.3 87.92 L358.53 87.65 L358.91 87.2 L359.44 86.59 L360.13 85.83 L360.96 84.94 L361.94 83.92 L363.07 82.81 L364.33 81.6 L365.72 80.33 L367.25 79 L368.9 77.62 L370.68 76.21 L372.57 74.78 L374.57 73.33 L376.67 71.87 L378.88 70.41 L381.18 68.98 L383.56 67.57 L386.03 66.2 L388.57 64.9 L391.18 63.68 L393.85 62.57 L396.57 61.58 L399.34 60.73 L402.15 60.05 L404.98 59.56 L407.84 59.25 L410.7 59.15 L413.57 59.25 L416.42 59.56 L419.26 60.05 L422.06 60.73 L424.83 61.58 L427.55 62.57 L430.22 63.68 L432.83 64.9 L435.37 66.2 L437.84 67.57 L440.23 68.98 L442.52 70.41 L444.73 71.87 L446.84 73.33 L448.84 74.78 L450.73 76.21 L452.5 77.62 L454.15 79 L455.68 80.33 L457.08 81.6 L458.34 82.81 L459.46 83.92 L460.44 84.94 L461.27 85.83 L461.96 86.59 L462.49 87.2 L462.88 87.65 L463.11 87.92 L463.18 88.01" stroke="url(#ub2)" stroke-width="0.7" stroke-opacity="0.55" stroke-dasharray="2.2 1"/>
<path d="M358.83 88.23 L358.91 88.37 L359.13 88.76 L359.51 89.42 L360.04 90.32 L360.72 91.45 L361.54 92.8 L362.51 94.34 L363.62 96.05 L364.87 97.9 L366.25 99.86 L367.77 101.91 L369.41 104.02 L371.17 106.16 L373.04 108.29 L375.03 110.41 L377.12 112.47 L379.31 114.46 L381.59 116.35 L383.96 118.14 L386.4 119.79 L388.92 121.3 L391.5 122.66 L394.14 123.86 L396.82 124.88 L399.55 125.72 L402.31 126.38 L405.09 126.86 L407.89 127.15 L410.7 127.24 L413.51 127.15 L416.31 126.86 L419.09 126.38 L421.85 125.72 L424.58 124.88 L427.26 123.86 L429.9 122.66 L432.48 121.3 L435 119.79 L437.44 118.14 L439.81 116.35 L442.09 114.46 L444.28 112.47 L446.37 110.41 L448.36 108.29 L450.24 106.16 L452 104.02 L453.63 101.91 L455.15 99.86 L456.53 97.9 L457.78 96.05 L458.89 94.34 L459.86 92.8 L460.68 91.45 L461.36 90.32 L461.89 89.42 L462.27 88.76 L462.5 88.37 L462.57 88.23" stroke="url(#lw2)" stroke-width="1.0" stroke-opacity="1"/>
<path d="M359.61 87.79 L359.69 87.92 L359.91 88.31 L360.29 88.96 L360.82 89.86 L361.49 90.99 L362.31 92.33 L363.27 93.86 L364.37 95.55 L365.61 97.39 L366.98 99.34 L368.48 101.37 L370.11 103.46 L371.85 105.57 L373.71 107.69 L375.67 109.78 L377.74 111.81 L379.9 113.78 L382.15 115.65 L384.48 117.4 L386.89 119.03 L389.36 120.52 L391.9 121.85 L394.48 123.03 L397.12 124.03 L399.79 124.85 L402.49 125.5 L405.21 125.97 L407.95 126.25 L410.7 126.34 L413.45 126.25 L416.19 125.97 L418.91 125.5 L421.61 124.85 L424.28 124.03 L426.92 123.03 L429.5 121.85 L432.04 120.52 L434.51 119.03 L436.92 117.4 L439.25 115.65 L441.5 113.78 L443.66 111.81 L445.73 109.78 L447.69 107.69 L449.55 105.57 L451.29 103.46 L452.92 101.37 L454.42 99.34 L455.79 97.39 L457.03 95.55 L458.13 93.86 L459.09 92.33 L459.91 90.99 L460.59 89.86 L461.11 88.96 L461.49 88.31 L461.72 87.92 L461.79 87.79" stroke="url(#lb2)" stroke-width="0.6" stroke-opacity="0.55"/>
<path d="M360.31 87.39 L360.38 87.52 L360.61 87.91 L360.98 88.56 L361.5 89.45 L362.17 90.57 L362.99 91.91 L363.94 93.43 L365.04 95.11 L366.27 96.94 L367.63 98.87 L369.12 100.89 L370.73 102.96 L372.46 105.06 L374.3 107.15 L376.24 109.22 L378.29 111.23 L380.42 113.17 L382.65 115.02 L384.95 116.75 L387.32 118.36 L389.75 119.82 L392.25 121.13 L394.79 122.29 L397.38 123.27 L400 124.08 L402.65 124.72 L405.32 125.17 L408.01 125.45 L410.7 125.54 L413.39 125.45 L416.08 125.17 L418.75 124.72 L421.4 124.08 L424.02 123.27 L426.61 122.29 L429.15 121.13 L431.65 119.82 L434.08 118.36 L436.46 116.75 L438.76 115.02 L440.98 113.17 L443.11 111.23 L445.16 109.22 L447.1 107.15 L448.94 105.06 L450.67 102.96 L452.28 100.89 L453.77 98.87 L455.13 96.94 L456.36 95.11 L457.46 93.43 L458.41 91.91 L459.23 90.57 L459.9 89.45 L460.42 88.56 L460.8 87.91 L461.02 87.52 L461.1 87.39" stroke="url(#lw2)" stroke-width="0.6" stroke-opacity="0.6"/>
</g>
<path d="M320 138.2 H501.7 V39.2" fill="none" stroke="#5a5a5a" stroke-width="0.7"/>
<path d="M320 138.2 V39.2 H501.7" fill="none" stroke="#262626" stroke-width="0.8"/>
<path d="M320 39.2 v1.8 M320 138.2 v-1.8" stroke="#262626" stroke-width="0.7"/>
<text x="320" y="32.5" text-anchor="middle" class="tk">0</text>
<path d="M380.57 39.2 v1.8 M380.57 138.2 v-1.8" stroke="#262626" stroke-width="0.7"/>
<text x="380.57" y="32.5" text-anchor="middle" class="tk">10</text>
<path d="M441.13 39.2 v1.8 M441.13 138.2 v-1.8" stroke="#262626" stroke-width="0.7"/>
<text x="441.13" y="32.5" text-anchor="middle" class="tk">20</text>
<path d="M320 39.2 h1.8 M501.7 39.2 h-1.8" stroke="#262626" stroke-width="0.7"/>
<text x="315.7" y="44" text-anchor="end" class="tk">0</text>
<path d="M320 59.2 h1.8 M501.7 59.2 h-1.8" stroke="#262626" stroke-width="0.7"/>
<text x="315.7" y="64" text-anchor="end" class="tk">2</text>
<path d="M320 79.2 h1.8 M501.7 79.2 h-1.8" stroke="#262626" stroke-width="0.7"/>
<text x="315.7" y="84" text-anchor="end" class="tk">4</text>
<path d="M320 99.2 h1.8 M501.7 99.2 h-1.8" stroke="#262626" stroke-width="0.7"/>
<text x="315.7" y="104" text-anchor="end" class="tk">6</text>
<path d="M320 119.2 h1.8 M501.7 119.2 h-1.8" stroke="#262626" stroke-width="0.7"/>
<text x="315.7" y="124" text-anchor="end" class="tk">8</text>
<text x="410.15" y="16.7" text-anchor="middle" class="lb">X (km)</text>
<text transform="translate(303.8 88.7) rotate(-90)" text-anchor="middle" class="lb">Z (km)</text>
<rect x="507.2" y="46.7" width="10.8" height="91.5" fill="url(#cbg)" stroke="#262626" stroke-width="0.7"/>
<text x="521.8" y="64.37" class="ck">0.02</text>
<path d="M518 59.77 h-1.5" stroke="#262626" stroke-width="0.6"/>
<text x="521.8" y="90.51" class="ck">0</text>
<path d="M518 85.91 h-1.5" stroke="#262626" stroke-width="0.6"/>
<text x="521.8" y="116.66" class="ck">-0.02</text>
<path d="M518 112.06 h-1.5" stroke="#262626" stroke-width="0.6"/>
<text x="521.8" y="142.8" class="ck">-0.04</text>
<text x="525.2" y="40.4" text-anchor="middle" class="ct"><tspan font-style="italic">Vz</tspan> (m/s)</text>
<clipPath id="clip3"><rect x="35.5" y="211.1" width="182.4" height="98.9"/></clipPath>
<rect x="35.5" y="211.1" width="182.4" height="98.9" fill="#939393"/>
<g clip-path="url(#clip3)" fill="none">
<path d="M74.02 260.13 L74.06 260.03 L74.18 259.72 L74.4 259.2 L74.69 258.48 L75.07 257.57 L75.53 256.48 L76.08 255.21 L76.7 253.79 L77.41 252.23 L78.19 250.53 L79.06 248.73 L80 246.83 L81.01 244.86 L82.1 242.83 L83.26 240.76 L84.49 238.67 L85.79 236.59 L87.16 234.51 L88.59 232.47 L90.08 230.48 L91.64 228.55 L93.25 226.69 L94.91 224.92 L96.63 223.25 L98.4 221.67 L100.21 220.2 L102.07 218.85 L103.97 217.61 L105.9 216.49 L107.87 215.48 L109.87 214.59 L111.9 213.82 L113.95 213.16 L116.02 212.6 L118.1 212.15 L120.2 211.81 L122.31 211.56 L124.43 211.42 L126.55 211.37 L128.67 211.42 L130.79 211.56 L132.9 211.81 L135 212.15 L137.08 212.6 L139.15 213.16 L141.2 213.82 L143.23 214.59 L145.23 215.48 L147.2 216.49 L149.13 217.61 L151.03 218.85 L152.89 220.2 L154.7 221.67 L156.47 223.25 L158.19 224.92 L159.85 226.69 L161.46 228.55 L163.02 230.48 L164.51 232.47 L165.94 234.51 L167.31 236.59 L168.61 238.67 L169.84 240.76 L171 242.83 L172.09 244.86 L173.1 246.83 L174.04 248.73 L174.91 250.53 L175.69 252.23 L176.4 253.79 L177.02 255.21 L177.57 256.48 L178.03 257.57 L178.41 258.48 L178.7 259.2 L178.92 259.72 L179.04 260.03 L179.09 260.13" stroke="#000" stroke-width="0.9" stroke-opacity="0.85"/>
<path d="M74.85 260.47 L74.89 260.37 L75.02 260.06 L75.23 259.54 L75.52 258.83 L75.9 257.92 L76.36 256.83 L76.9 255.57 L77.52 254.16 L78.23 252.6 L79.01 250.92 L79.87 249.12 L80.8 247.24 L81.81 245.28 L82.89 243.26 L84.04 241.21 L85.26 239.14 L86.55 237.07 L87.9 235.02 L89.32 233 L90.79 231.03 L92.33 229.13 L93.91 227.3 L95.55 225.55 L97.24 223.9 L98.98 222.36 L100.76 220.92 L102.58 219.59 L104.44 218.38 L106.33 217.28 L108.26 216.3 L110.21 215.43 L112.2 214.67 L114.2 214.02 L116.23 213.48 L118.27 213.04 L120.33 212.7 L122.4 212.46 L124.47 212.32 L126.55 212.27 L128.63 212.32 L130.7 212.46 L132.77 212.7 L134.83 213.04 L136.87 213.48 L138.9 214.02 L140.9 214.67 L142.89 215.43 L144.84 216.3 L146.77 217.28 L148.66 218.38 L150.52 219.59 L152.34 220.92 L154.12 222.36 L155.86 223.9 L157.55 225.55 L159.19 227.3 L160.77 229.13 L162.31 231.03 L163.78 233 L165.2 235.02 L166.55 237.07 L167.84 239.14 L169.06 241.21 L170.21 243.26 L171.29 245.28 L172.3 247.24 L173.23 249.12 L174.09 250.92 L174.87 252.6 L175.58 254.16 L176.2 255.57 L176.74 256.83 L177.2 257.92 L177.58 258.83 L177.87 259.54 L178.08 260.06 L178.21 260.37 L178.25 260.47" stroke="#fff" stroke-width="0.8" stroke-opacity="0.8"/>
<path d="M75.68 260.81 L75.73 260.71 L75.85 260.4 L76.06 259.88 L76.35 259.17 L76.73 258.27 L77.19 257.18 L77.73 255.93 L78.35 254.52 L79.04 252.97 L79.82 251.3 L80.67 249.52 L81.6 247.64 L82.61 245.69 L83.68 243.69 L84.82 241.66 L86.03 239.61 L87.31 237.56 L88.65 235.53 L90.05 233.53 L91.51 231.58 L93.02 229.7 L94.58 227.9 L96.2 226.18 L97.86 224.56 L99.56 223.04 L101.31 221.63 L103.09 220.33 L104.91 219.14 L106.76 218.07 L108.65 217.11 L110.56 216.26 L112.5 215.52 L114.46 214.88 L116.44 214.35 L118.44 213.92 L120.45 213.59 L122.48 213.36 L124.51 213.21 L126.55 213.17 L128.59 213.21 L130.62 213.36 L132.65 213.59 L134.66 213.92 L136.66 214.35 L138.64 214.88 L140.6 215.52 L142.54 216.26 L144.46 217.11 L146.34 218.07 L148.19 219.14 L150.01 220.33 L151.79 221.63 L153.54 223.04 L155.24 224.56 L156.9 226.18 L158.52 227.9 L160.08 229.7 L161.59 231.58 L163.05 233.53 L164.45 235.53 L165.79 237.56 L167.07 239.61 L168.28 241.66 L169.42 243.69 L170.49 245.69 L171.5 247.64 L172.43 249.52 L173.28 251.3 L174.06 252.97 L174.75 254.52 L175.37 255.93 L175.91 257.18 L176.37 258.27 L176.75 259.17 L177.04 259.88 L177.25 260.4 L177.37 260.71 L177.42 260.81" stroke="#000" stroke-width="0.7" stroke-opacity="0.7"/>
<path d="M76.43 261.11 L76.47 261.01 L76.59 260.7 L76.8 260.18 L77.09 259.48 L77.47 258.58 L77.92 257.5 L78.46 256.25 L79.08 254.85 L79.77 253.31 L80.54 251.64 L81.39 249.87 L82.32 248 L83.31 246.07 L84.38 244.08 L85.52 242.06 L86.72 240.02 L87.98 237.99 L89.31 235.98 L90.7 234 L92.14 232.08 L93.63 230.22 L95.18 228.44 L96.77 226.74 L98.4 225.15 L100.08 223.65 L101.79 222.26 L103.54 220.99 L105.33 219.82 L107.14 218.77 L108.99 217.83 L110.86 217 L112.76 216.27 L114.68 215.65 L116.63 215.13 L118.59 214.71 L120.57 214.38 L122.55 214.15 L124.55 214.01 L126.55 213.97 L128.55 214.01 L130.55 214.15 L132.53 214.38 L134.51 214.71 L136.47 215.13 L138.42 215.65 L140.34 216.27 L142.24 217 L144.11 217.83 L145.96 218.77 L147.77 219.82 L149.56 220.99 L151.31 222.26 L153.02 223.65 L154.7 225.15 L156.33 226.74 L157.92 228.44 L159.47 230.22 L160.96 232.08 L162.4 234 L163.79 235.98 L165.12 237.99 L166.38 240.02 L167.58 242.06 L168.72 244.08 L169.79 246.07 L170.78 248 L171.71 249.87 L172.56 251.64 L173.33 253.31 L174.02 254.85 L174.64 256.25 L175.18 257.5 L175.63 258.58 L176.01 259.48 L176.3 260.18 L176.51 260.7 L176.63 261.01 L176.67 261.11" stroke="#fff" stroke-width="0.6" stroke-opacity="0.5"/>
<linearGradient id="sw3" gradientUnits="userSpaceOnUse" x1="0" y1="211.1" x2="0" y2="310.1">
<stop offset="0" stop-color="#fff" stop-opacity="0.12"/>
<stop offset="0.1" stop-color="#fff" stop-opacity="0.5"/>
<stop offset="0.22" stop-color="#fff" stop-opacity="0.85"/>
<stop offset="0.45" stop-color="#fff" stop-opacity="1"/>
<stop offset="1" stop-color="#fff" stop-opacity="1"/>
</linearGradient>
<linearGradient id="sb3" gradientUnits="userSpaceOnUse" x1="0" y1="211.1" x2="0" y2="310.1">
<stop offset="0" stop-color="#000" stop-opacity="0.03"/>
<stop offset="0.2" stop-color="#000" stop-opacity="0.3"/>
<stop offset="0.48" stop-color="#000" stop-opacity="0.5"/>
<stop offset="0.62" stop-color="#000" stop-opacity="0.95"/>
<stop offset="1" stop-color="#000" stop-opacity="1"/>
</linearGradient>
<linearGradient id="sx3" gradientUnits="userSpaceOnUse" x1="0" y1="211.1" x2="0" y2="310.1">
<stop offset="0" stop-color="#fff" stop-opacity="0.03"/>
<stop offset="0.2" stop-color="#fff" stop-opacity="0.3"/>
<stop offset="0.48" stop-color="#fff" stop-opacity="0.5"/>
<stop offset="0.62" stop-color="#fff" stop-opacity="0.95"/>
<stop offset="1" stop-color="#fff" stop-opacity="1"/>
</linearGradient>
<path d="M67.91 211.17 L67.81 213.17 L67.8 215.14 L67.86 217.11 L67.99 219.1 L68.17 221.09 L68.41 223.08 L68.68 225.08 L69 227.09 L69.34 229.1 L69.7 231.11 L70.08 233.13 L70.48 235.15 L70.88 237.18 L71.29 239.2 L71.7 241.23 L72.11 243.26 L72.51 245.29 L72.91 247.33 L73.31 249.36 L73.69 251.39 L74.07 253.43 L74.44 255.46 L74.81 257.49 L75.17 259.53 L75.52 261.56 L75.88 263.58 L76.23 265.61 L76.59 267.63 L76.96 269.65 L77.35 271.67 L77.75 273.68 L78.18 275.69 L78.63 277.7 L79.13 279.7 L79.66 281.69 L80.25 283.69 L80.89 285.67 L81.6 287.66 L82.38 289.64 L83.25 291.61 L84.21 293.58 L85.28 295.56 L86.46 297.53 L87.78 299.5 L89.23 301.47 L90.84 303.44 L92.61 305.41 L94.57 307.39 L96.75 309.4" stroke="url(#sx3)" stroke-width="0.5" stroke-opacity="0.3"/>
<path d="M67.01 211.13 L66.91 213.14 L66.9 215.15 L66.96 217.16 L67.09 219.17 L67.28 221.18 L67.52 223.2 L67.79 225.21 L68.11 227.23 L68.45 229.25 L68.81 231.28 L69.2 233.3 L69.59 235.33 L70 237.35 L70.41 239.38 L70.82 241.41 L71.23 243.44 L71.63 245.47 L72.03 247.5 L72.42 249.53 L72.81 251.56 L73.19 253.59 L73.56 255.62 L73.92 257.65 L74.28 259.68 L74.63 261.71 L74.99 263.74 L75.35 265.77 L75.71 267.79 L76.08 269.82 L76.47 271.84 L76.87 273.86 L77.3 275.89 L77.76 277.9 L78.25 279.92 L78.79 281.94 L79.39 283.95 L80.04 285.96 L80.75 287.97 L81.55 289.98 L82.43 291.99 L83.41 294 L84.5 296 L85.7 298.01 L87.04 300.01 L88.52 302.02 L90.15 304.02 L91.96 306.03 L93.95 308.04 L96.14 310.06" stroke="url(#sb3)" stroke-width="1.1" stroke-opacity="0.9"/>
<path d="M66.01 211.08 L65.91 213.12 L65.9 215.16 L65.97 217.2 L66.1 219.25 L66.29 221.28 L66.52 223.32 L66.8 225.36 L67.12 227.39 L67.46 229.43 L67.83 231.46 L68.22 233.49 L68.61 235.52 L69.02 237.55 L69.43 239.58 L69.84 241.61 L70.25 243.64 L70.65 245.66 L71.05 247.69 L71.44 249.72 L71.83 251.75 L72.2 253.77 L72.57 255.8 L72.94 257.83 L73.29 259.85 L73.65 261.88 L74 263.91 L74.36 265.94 L74.72 267.97 L75.1 270 L75.48 272.03 L75.89 274.07 L76.32 276.1 L76.78 278.13 L77.29 280.17 L77.83 282.21 L78.43 284.25 L79.09 286.29 L79.82 288.33 L80.63 290.37 L81.53 292.41 L82.52 294.45 L83.63 296.5 L84.86 298.54 L86.22 300.59 L87.73 302.63 L89.39 304.67 L91.23 306.72 L93.25 308.76 L95.47 310.79" stroke="url(#sw3)" stroke-width="0.9" stroke-opacity="0.8"/>
<path d="M65.11 211.04 L65.01 213.09 L65 215.17 L65.07 217.25 L65.2 219.32 L65.39 221.38 L65.63 223.44 L65.91 225.49 L66.23 227.54 L66.58 229.58 L66.95 231.62 L67.33 233.66 L67.73 235.69 L68.13 237.73 L68.54 239.76 L68.95 241.79 L69.36 243.81 L69.77 245.84 L70.17 247.86 L70.56 249.89 L70.94 251.91 L71.32 253.94 L71.69 255.96 L72.05 257.98 L72.41 260.01 L72.76 262.04 L73.12 264.07 L73.48 266.1 L73.84 268.13 L74.21 270.17 L74.6 272.21 L75.01 274.25 L75.44 276.29 L75.91 278.34 L76.41 280.39 L76.96 282.45 L77.57 284.51 L78.24 286.58 L78.98 288.64 L79.8 290.72 L80.71 292.79 L81.72 294.87 L82.85 296.94 L84.1 299.02 L85.48 301.1 L87.02 303.18 L88.71 305.26 L90.58 307.34 L92.63 309.41 L94.86 311.46" stroke="url(#sb3)" stroke-width="0.6" stroke-opacity="0.65"/>
<path d="M64.11 210.99 L64.01 213.07 L64 215.19 L64.07 217.3 L64.2 219.39 L64.4 221.48 L64.64 223.56 L64.92 225.63 L65.24 227.7 L65.59 229.75 L65.96 231.8 L66.35 233.85 L66.75 235.89 L67.15 237.92 L67.56 239.96 L67.97 241.98 L68.38 244.01 L68.79 246.03 L69.18 248.05 L69.58 250.08 L69.96 252.1 L70.33 254.12 L70.7 256.14 L71.07 258.16 L71.42 260.18 L71.78 262.21 L72.13 264.24 L72.49 266.27 L72.85 268.31 L73.23 270.35 L73.62 272.4 L74.03 274.45 L74.47 276.51 L74.94 278.57 L75.44 280.64 L76 282.72 L76.61 284.81 L77.29 286.9 L78.04 289 L78.87 291.1 L79.8 293.21 L80.83 295.32 L81.98 297.44 L83.25 299.56 L84.67 301.68 L86.23 303.8 L87.95 305.91 L89.85 308.02 L91.93 310.13 L94.18 312.19" stroke="url(#sx3)" stroke-width="1.1" stroke-opacity="0.95"/>
<path d="M185.19 211.17 L185.29 213.17 L185.3 215.14 L185.24 217.11 L185.11 219.1 L184.93 221.09 L184.69 223.08 L184.42 225.08 L184.1 227.09 L183.76 229.1 L183.4 231.11 L183.02 233.13 L182.62 235.15 L182.22 237.18 L181.81 239.2 L181.4 241.23 L180.99 243.26 L180.59 245.29 L180.19 247.33 L179.79 249.36 L179.41 251.39 L179.03 253.43 L178.66 255.46 L178.29 257.49 L177.93 259.53 L177.58 261.56 L177.22 263.58 L176.87 265.61 L176.51 267.63 L176.14 269.65 L175.75 271.67 L175.35 273.68 L174.92 275.69 L174.47 277.7 L173.97 279.7 L173.44 281.69 L172.86 283.69 L172.21 285.67 L171.5 287.66 L170.72 289.64 L169.85 291.61 L168.89 293.58 L167.82 295.56 L166.64 297.53 L165.32 299.5 L163.87 301.47 L162.26 303.44 L160.49 305.41 L158.53 307.39 L156.35 309.4" stroke="url(#sx3)" stroke-width="0.5" stroke-opacity="0.3"/>
<path d="M186.09 211.13 L186.19 213.14 L186.2 215.15 L186.14 217.16 L186.01 219.17 L185.82 221.18 L185.58 223.2 L185.31 225.21 L184.99 227.23 L184.65 229.25 L184.29 231.28 L183.9 233.3 L183.51 235.33 L183.1 237.35 L182.69 239.38 L182.28 241.41 L181.87 243.44 L181.47 245.47 L181.07 247.5 L180.68 249.53 L180.29 251.56 L179.91 253.59 L179.54 255.62 L179.18 257.65 L178.82 259.68 L178.47 261.71 L178.11 263.74 L177.75 265.77 L177.39 267.79 L177.02 269.82 L176.64 271.84 L176.23 273.86 L175.8 275.89 L175.34 277.9 L174.85 279.92 L174.31 281.94 L173.72 283.95 L173.06 285.96 L172.35 287.97 L171.55 289.98 L170.67 291.99 L169.69 294 L168.6 296 L167.4 298.01 L166.06 300.01 L164.58 302.02 L162.95 304.02 L161.14 306.03 L159.15 308.04 L156.96 310.06" stroke="url(#sb3)" stroke-width="1.1" stroke-opacity="0.9"/>
<path d="M187.09 211.08 L187.19 213.12 L187.2 215.16 L187.13 217.2 L187 219.25 L186.81 221.28 L186.58 223.32 L186.3 225.36 L185.98 227.39 L185.64 229.43 L185.27 231.46 L184.88 233.49 L184.49 235.52 L184.08 237.55 L183.67 239.58 L183.26 241.61 L182.85 243.64 L182.45 245.66 L182.05 247.69 L181.66 249.72 L181.27 251.75 L180.9 253.77 L180.53 255.8 L180.16 257.83 L179.81 259.85 L179.45 261.88 L179.1 263.91 L178.74 265.94 L178.38 267.97 L178 270 L177.62 272.03 L177.21 274.07 L176.78 276.1 L176.32 278.13 L175.82 280.17 L175.27 282.21 L174.67 284.25 L174.01 286.29 L173.28 288.33 L172.47 290.37 L171.57 292.41 L170.58 294.45 L169.47 296.5 L168.24 298.54 L166.88 300.59 L165.37 302.63 L163.71 304.67 L161.87 306.72 L159.85 308.76 L157.63 310.79" stroke="url(#sw3)" stroke-width="0.9" stroke-opacity="0.8"/>
<path d="M187.99 211.04 L188.09 213.09 L188.1 215.17 L188.03 217.25 L187.9 219.32 L187.71 221.38 L187.47 223.44 L187.19 225.49 L186.87 227.54 L186.52 229.58 L186.15 231.62 L185.77 233.66 L185.37 235.69 L184.97 237.73 L184.56 239.76 L184.15 241.79 L183.74 243.81 L183.33 245.84 L182.93 247.86 L182.54 249.89 L182.16 251.91 L181.78 253.94 L181.41 255.96 L181.05 257.98 L180.69 260.01 L180.34 262.04 L179.98 264.07 L179.63 266.1 L179.26 268.13 L178.89 270.17 L178.5 272.21 L178.09 274.25 L177.66 276.29 L177.19 278.34 L176.69 280.39 L176.14 282.45 L175.53 284.51 L174.86 286.58 L174.12 288.64 L173.3 290.72 L172.39 292.79 L171.38 294.87 L170.25 296.94 L169 299.02 L167.62 301.1 L166.08 303.18 L164.39 305.26 L162.52 307.34 L160.47 309.41 L158.24 311.46" stroke="url(#sb3)" stroke-width="0.6" stroke-opacity="0.65"/>
<path d="M188.99 210.99 L189.09 213.07 L189.1 215.19 L189.03 217.3 L188.9 219.39 L188.7 221.48 L188.46 223.56 L188.18 225.63 L187.86 227.7 L187.51 229.75 L187.14 231.8 L186.75 233.85 L186.35 235.89 L185.95 237.92 L185.54 239.96 L185.13 241.98 L184.72 244.01 L184.31 246.03 L183.92 248.05 L183.52 250.08 L183.14 252.1 L182.77 254.12 L182.4 256.14 L182.03 258.16 L181.68 260.18 L181.32 262.21 L180.97 264.24 L180.61 266.27 L180.25 268.31 L179.87 270.35 L179.48 272.4 L179.07 274.45 L178.63 276.51 L178.16 278.57 L177.66 280.64 L177.1 282.72 L176.49 284.81 L175.81 286.9 L175.06 289 L174.23 291.1 L173.3 293.21 L172.27 295.32 L171.12 297.44 L169.85 299.56 L168.44 301.68 L166.87 303.8 L165.15 305.91 L163.25 308.02 L161.17 310.13 L158.92 312.19" stroke="url(#sx3)" stroke-width="1.1" stroke-opacity="0.95"/>
</g>
<linearGradient id="uw3" gradientUnits="userSpaceOnUse" x1="74.48" y1="0" x2="178.62" y2="0">
<stop offset="0" stop-color="#fff" stop-opacity="1"/>
<stop offset="0.34" stop-color="#fff" stop-opacity="0.9"/>
<stop offset="0.39" stop-color="#fff" stop-opacity="0.05"/>
<stop offset="0.61" stop-color="#fff" stop-opacity="0.05"/>
<stop offset="0.66" stop-color="#fff" stop-opacity="0.9"/>
<stop offset="1" stop-color="#fff" stop-opacity="1"/>
</linearGradient>
<linearGradient id="ub3" gradientUnits="userSpaceOnUse" x1="74.48" y1="0" x2="178.62" y2="0">
<stop offset="0" stop-color="#000" stop-opacity="1"/>
<stop offset="0.34" stop-color="#000" stop-opacity="0.9"/>
<stop offset="0.39" stop-color="#000" stop-opacity="0.05"/>
<stop offset="0.61" stop-color="#000" stop-opacity="0.05"/>
<stop offset="0.66" stop-color="#000" stop-opacity="0.9"/>
<stop offset="1" stop-color="#000" stop-opacity="1"/>
</linearGradient>
<linearGradient id="lw3" gradientUnits="userSpaceOnUse" x1="74.48" y1="0" x2="178.62" y2="0">
<stop offset="0" stop-color="#fff" stop-opacity="1"/>
<stop offset="0.36" stop-color="#fff" stop-opacity="0.9"/>
<stop offset="0.42" stop-color="#fff" stop-opacity="0.05"/>
<stop offset="0.58" stop-color="#fff" stop-opacity="0.05"/>
<stop offset="0.64" stop-color="#fff" stop-opacity="0.9"/>
<stop offset="1" stop-color="#fff" stop-opacity="1"/>
</linearGradient>
<linearGradient id="lb3" gradientUnits="userSpaceOnUse" x1="74.48" y1="0" x2="178.62" y2="0">
<stop offset="0" stop-color="#000" stop-opacity="1"/>
<stop offset="0.36" stop-color="#000" stop-opacity="0.9"/>
<stop offset="0.42" stop-color="#000" stop-opacity="0.05"/>
<stop offset="0.58" stop-color="#000" stop-opacity="0.05"/>
<stop offset="0.64" stop-color="#000" stop-opacity="0.9"/>
<stop offset="1" stop-color="#000" stop-opacity="1"/>
</linearGradient>
<g clip-path="url(#clip3)" fill="none">
<path d="M74.48 260.38 L74.55 260.29 L74.78 260.02 L75.16 259.58 L75.7 258.98 L76.38 258.23 L77.2 257.34 L78.18 256.34 L79.29 255.23 L80.54 254.04 L81.93 252.79 L83.45 251.47 L85.1 250.11 L86.86 248.71 L88.75 247.28 L90.74 245.84 L92.84 244.4 L95.04 242.96 L97.33 241.53 L99.7 240.13 L102.16 238.78 L104.69 237.49 L107.28 236.29 L109.92 235.19 L112.62 234.21 L115.36 233.38 L118.13 232.71 L120.92 232.23 L123.73 231.93 L126.55 231.83 L129.37 231.93 L132.18 232.23 L134.97 232.71 L137.74 233.38 L140.48 234.21 L143.18 235.19 L145.82 236.29 L148.41 237.49 L150.94 238.78 L153.4 240.13 L155.77 241.53 L158.06 242.96 L160.26 244.4 L162.36 245.84 L164.35 247.28 L166.24 248.71 L168 250.11 L169.65 251.47 L171.17 252.79 L172.56 254.04 L173.81 255.23 L174.92 256.34 L175.9 257.34 L176.72 258.23 L177.4 258.98 L177.94 259.58 L178.32 260.02 L178.55 260.29 L178.62 260.38" stroke="url(#uw3)" stroke-width="0.7" stroke-opacity="0.65"/>
<path d="M73.95 259.92 L74.02 259.83 L74.25 259.56 L74.64 259.12 L75.17 258.51 L75.86 257.75 L76.7 256.86 L77.68 255.85 L78.8 254.73 L80.07 253.53 L81.47 252.26 L83 250.93 L84.66 249.56 L86.44 248.15 L88.33 246.72 L90.34 245.27 L92.45 243.82 L94.66 242.37 L96.97 240.93 L99.36 239.52 L101.83 238.16 L104.38 236.86 L106.99 235.65 L109.67 234.53 L112.4 233.55 L115.17 232.71 L117.98 232.03 L120.82 231.53 L123.68 231.23 L126.55 231.13 L129.42 231.23 L132.28 231.53 L135.12 232.03 L137.93 232.71 L140.7 233.55 L143.43 234.53 L146.11 235.65 L148.72 236.86 L151.27 238.16 L153.74 239.52 L156.13 240.93 L158.44 242.37 L160.65 243.82 L162.76 245.27 L164.77 246.72 L166.67 248.15 L168.44 249.56 L170.1 250.93 L171.63 252.26 L173.03 253.53 L174.3 254.73 L175.42 255.85 L176.4 256.86 L177.24 257.75 L177.93 258.51 L178.46 259.12 L178.85 259.56 L179.08 259.83 L179.15 259.92" stroke="url(#ub3)" stroke-width="0.6" stroke-opacity="0.5"/>
<path d="M74.48 260.08 L74.55 260.22 L74.78 260.61 L75.16 261.27 L75.7 262.17 L76.38 263.3 L77.2 264.65 L78.18 266.19 L79.29 267.89 L80.54 269.74 L81.93 271.7 L83.45 273.75 L85.1 275.86 L86.86 277.99 L88.75 280.12 L90.74 282.23 L92.84 284.29 L95.04 286.28 L97.33 288.17 L99.7 289.96 L102.16 291.61 L104.69 293.12 L107.28 294.48 L109.92 295.67 L112.62 296.69 L115.36 297.54 L118.13 298.2 L120.92 298.67 L123.73 298.96 L126.55 299.05 L129.37 298.96 L132.18 298.67 L134.97 298.2 L137.74 297.54 L140.48 296.69 L143.18 295.67 L145.82 294.48 L148.41 293.12 L150.94 291.61 L153.4 289.96 L155.77 288.17 L158.06 286.28 L160.26 284.29 L162.36 282.23 L164.35 280.12 L166.24 277.99 L168 275.86 L169.65 273.75 L171.17 271.7 L172.56 269.74 L173.81 267.89 L174.92 266.19 L175.9 264.65 L176.72 263.3 L177.4 262.17 L177.94 261.27 L178.32 260.61 L178.55 260.22 L178.62 260.08" stroke="url(#lw3)" stroke-width="1.0" stroke-opacity="1"/>
<path d="M75.26 259.64 L75.33 259.77 L75.56 260.16 L75.94 260.81 L76.47 261.71 L77.15 262.83 L77.97 264.17 L78.93 265.7 L80.04 267.39 L81.28 269.23 L82.66 271.18 L84.17 273.21 L85.8 275.29 L87.55 277.41 L89.41 279.52 L91.38 281.6 L93.46 283.64 L95.63 285.6 L97.89 287.47 L100.23 289.22 L102.64 290.85 L105.13 292.34 L107.67 293.67 L110.27 294.84 L112.91 295.84 L115.59 296.67 L118.31 297.31 L121.04 297.78 L123.79 298.06 L126.55 298.15 L129.31 298.06 L132.06 297.78 L134.79 297.31 L137.51 296.67 L140.19 295.84 L142.83 294.84 L145.43 293.67 L147.97 292.34 L150.46 290.85 L152.87 289.22 L155.22 287.47 L157.47 285.6 L159.64 283.64 L161.72 281.6 L163.69 279.52 L165.55 277.41 L167.3 275.29 L168.93 273.21 L170.44 271.18 L171.82 269.23 L173.06 267.39 L174.17 265.7 L175.13 264.17 L175.95 262.83 L176.63 261.71 L177.16 260.81 L177.54 260.16 L177.77 259.77 L177.84 259.64" stroke="url(#lb3)" stroke-width="0.6" stroke-opacity="0.55"/>
<path d="M75.95 259.24 L76.03 259.37 L76.25 259.76 L76.63 260.41 L77.16 261.3 L77.83 262.42 L78.65 263.75 L79.61 265.27 L80.71 266.95 L81.94 268.77 L83.31 270.71 L84.8 272.72 L86.42 274.79 L88.16 276.89 L90 278.98 L91.95 281.04 L94.01 283.06 L96.15 285 L98.38 286.84 L100.69 288.57 L103.07 290.17 L105.52 291.64 L108.02 292.95 L110.57 294.1 L113.17 295.08 L115.8 295.9 L118.47 296.53 L121.15 296.99 L123.85 297.26 L126.55 297.35 L129.25 297.26 L131.95 296.99 L134.63 296.53 L137.3 295.9 L139.93 295.08 L142.53 294.1 L145.08 292.95 L147.58 291.64 L150.03 290.17 L152.41 288.57 L154.72 286.84 L156.95 285 L159.09 283.06 L161.15 281.04 L163.1 278.98 L164.94 276.89 L166.68 274.79 L168.3 272.72 L169.79 270.71 L171.16 268.77 L172.39 266.95 L173.49 265.27 L174.45 263.75 L175.27 262.42 L175.94 261.3 L176.47 260.41 L176.85 259.76 L177.07 259.37 L177.15 259.24" stroke="url(#lw3)" stroke-width="0.6" stroke-opacity="0.6"/>
</g>
<path d="M35.5 310 H217.9 V211.1" fill="none" stroke="#5a5a5a" stroke-width="0.7"/>
<path d="M35.5 310 V211.1 H217.9" fill="none" stroke="#262626" stroke-width="0.8"/>
<path d="M35.5 211.1 v1.8 M35.5 310 v-1.8" stroke="#262626" stroke-width="0.7"/>
<text x="35.5" y="204.4" text-anchor="middle" class="tk">0</text>
<path d="M96.3 211.1 v1.8 M96.3 310 v-1.8" stroke="#262626" stroke-width="0.7"/>
<text x="96.3" y="204.4" text-anchor="middle" class="tk">10</text>
<path d="M157.1 211.1 v1.8 M157.1 310 v-1.8" stroke="#262626" stroke-width="0.7"/>
<text x="157.1" y="204.4" text-anchor="middle" class="tk">20</text>
<path d="M35.5 211.1 h1.8 M217.9 211.1 h-1.8" stroke="#262626" stroke-width="0.7"/>
<text x="31.2" y="215.9" text-anchor="end" class="tk">0</text>
<path d="M35.5 231.08 h1.8 M217.9 231.08 h-1.8" stroke="#262626" stroke-width="0.7"/>
<text x="31.2" y="235.88" text-anchor="end" class="tk">2</text>
<path d="M35.5 251.06 h1.8 M217.9 251.06 h-1.8" stroke="#262626" stroke-width="0.7"/>
<text x="31.2" y="255.86" text-anchor="end" class="tk">4</text>
<path d="M35.5 271.04 h1.8 M217.9 271.04 h-1.8" stroke="#262626" stroke-width="0.7"/>
<text x="31.2" y="275.84" text-anchor="end" class="tk">6</text>
<path d="M35.5 291.02 h1.8 M217.9 291.02 h-1.8" stroke="#262626" stroke-width="0.7"/>
<text x="31.2" y="295.82" text-anchor="end" class="tk">8</text>
<text x="126" y="188.6" text-anchor="middle" class="lb">X (km)</text>
<text transform="translate(19.3 260.55) rotate(-90)" text-anchor="middle" class="lb">Z (km)</text>
<rect x="222.8" y="218.6" width="11" height="91.4" fill="url(#cbg)" stroke="#262626" stroke-width="0.7"/>
<text x="237.6" y="236.26" class="ck">0.02</text>
<path d="M233.8 231.66 h-1.5" stroke="#262626" stroke-width="0.6"/>
<text x="237.6" y="262.37" class="ck">0</text>
<path d="M233.8 257.77 h-1.5" stroke="#262626" stroke-width="0.6"/>
<text x="237.6" y="288.49" class="ck">-0.02</text>
<path d="M233.8 283.89 h-1.5" stroke="#262626" stroke-width="0.6"/>
<text x="237.6" y="314.6" class="ck">-0.04</text>
<text x="240.9" y="212.3" text-anchor="middle" class="ct"><tspan font-style="italic">Vz</tspan> (m/s)</text>
<rect x="327.1" y="205.7" width="200.3" height="99.7" fill="#fff"/>
<clipPath id="lclip4"><rect x="327.1" y="205.7" width="200.3" height="99.7"/></clipPath>
<g clip-path="url(#lclip4)" fill="none" stroke-linejoin="round">
<path d="M327.1 249.68 L327.87 249.68 L328.65 249.68 L329.42 249.68 L330.19 249.68 L330.97 249.68 L331.74 249.68 L332.51 249.68 L333.29 249.68 L334.06 249.68 L334.83 249.68 L335.61 249.68 L336.38 249.68 L337.15 249.68 L337.93 249.68 L338.7 249.68 L339.47 249.68 L340.25 249.68 L341.02 249.68 L341.79 249.68 L342.57 249.68 L343.34 249.68 L344.11 249.68 L344.89 249.68 L345.66 249.68 L346.43 249.68 L347.21 249.68 L347.98 249.68 L348.75 249.68 L349.53 249.68 L350.3 249.68 L351.07 249.68 L351.85 249.68 L352.62 249.68 L353.39 249.64 L354.17 249.5 L354.94 249.3 L355.71 249.07 L356.49 248.85 L357.26 248.69 L358.03 248.61 L358.81 248.71 L359.58 249.02 L360.35 249.47 L361.13 249.98 L361.9 250.47 L362.67 250.88 L363.45 251.13 L364.22 251.14 L364.99 250.81 L365.77 250.23 L366.54 249.46 L367.31 248.6 L368.09 247.73 L368.86 246.94 L369.63 246.31 L370.41 245.92 L371.18 245.89 L371.95 246.48 L372.73 247.64 L373.5 249.21 L374.27 251.01 L375.05 252.89 L375.82 254.69 L376.59 256.24 L377.37 257.39 L378.14 257.96 L378.92 257.62 L379.69 255.91 L380.46 253.07 L381.24 249.42 L382.01 245.26 L382.78 240.88 L383.56 236.6 L384.33 232.7 L385.1 229.49 L385.88 227.28 L386.65 226.33 L387.42 225.91 L388.2 225.82 L388.97 226.13 L389.74 226.72 L390.52 228.54 L391.29 231.67 L392.06 235.86 L392.84 240.84 L393.61 246.37 L394.38 252.18 L395.16 258.02 L395.93 263.63 L396.7 268.76 L397.48 273.15 L398.25 276.54 L399.02 278.68 L399.8 279.31 L400.57 278.78 L401.34 277.47 L402.12 275.5 L402.89 272.95 L403.66 269.94 L404.44 266.58 L405.21 262.96 L405.98 259.19 L406.76 255.38 L407.53 251.63 L408.3 248.04 L409.08 244.72 L409.85 241.77 L410.62 239.31 L411.4 237.42 L412.17 236.23 L412.94 235.82 L413.72 236.01 L414.49 236.51 L415.26 237.26 L416.04 238.2 L416.81 239.27 L417.58 240.41 L418.36 241.56 L419.13 242.66 L419.9 243.65 L420.68 244.6 L421.45 245.66 L422.22 246.75 L423 247.8 L423.77 248.76 L424.54 249.56 L425.32 250.12 L426.09 250.56 L426.86 250.97 L427.64 251.3 L428.41 251.52 L429.18 251.6 L429.96 251.57 L430.73 251.49 L431.5 251.37 L432.28 251.22 L433.05 251.05 L433.82 250.86 L434.6 250.66 L435.37 250.46 L436.14 250.27 L436.92 250.09 L437.69 249.93 L438.46 249.81 L439.24 249.72 L440.01 249.68 L440.78 249.68 L441.56 249.68 L442.33 249.68 L443.1 249.68 L443.88 249.68 L444.65 249.68 L445.42 249.68 L446.2 249.68 L446.97 249.68 L447.74 249.68 L448.52 249.68 L449.29 249.68 L450.06 249.68 L450.84 249.68 L451.61 249.68 L452.38 249.68 L453.16 249.68 L453.93 249.68 L454.7 249.68 L455.48 249.68 L456.25 249.68 L457.02 249.68 L457.8 249.68 L458.57 249.68 L459.34 249.68 L460.12 249.68 L460.89 249.68 L461.66 249.68 L462.44 249.68 L463.21 249.68 L463.98 249.68 L464.76 249.68 L465.53 249.68 L466.3 249.68 L467.08 249.68 L467.85 249.68 L468.62 249.68 L469.4 249.68 L470.17 249.68 L470.94 249.68 L471.72 249.68 L472.49 249.68 L473.26 249.68 L474.04 249.68 L474.81 249.68 L475.58 249.68 L476.36 249.68 L477.13 249.68 L477.91 249.68 L478.68 249.68 L479.45 249.68 L480.23 249.68 L481 249.68 L481.77 249.68 L482.55 249.68 L483.32 249.68 L484.09 249.68 L484.87 249.68 L485.64 249.68 L486.41 249.68 L487.19 249.68 L487.96 249.68 L488.73 249.68 L489.51 249.68 L490.28 249.68 L491.05 249.68 L491.83 249.68 L492.6 249.68 L493.37 249.68 L494.15 249.68 L494.92 249.68 L495.69 249.68 L496.47 249.68 L497.24 249.68 L498.01 249.68 L498.79 249.68 L499.56 249.68 L500.33 249.68 L501.11 249.68 L501.88 249.68 L502.65 249.68 L503.43 249.68 L504.2 249.68 L504.97 249.68 L505.75 249.68 L506.52 249.68 L507.29 249.68 L508.07 249.68 L508.84 249.68 L509.61 249.68 L510.39 249.68 L511.16 249.68 L511.93 249.68 L512.71 249.68 L513.48 249.68 L514.25 249.68 L515.03 249.68 L515.8 249.68 L516.57 249.68 L517.35 249.68 L518.12 249.68 L518.89 249.68 L519.67 249.68 L520.44 249.68 L521.21 249.68 L521.99 249.68 L522.76 249.68 L523.53 249.68 L524.31 249.68 L525.08 249.68 L525.85 249.68 L526.63 249.68 L527.4 249.68" stroke="#ff0000" stroke-width="1.6"/>
<path d="M327.1 249.68 L327.87 249.68 L328.65 249.68 L329.42 249.68 L330.19 249.68 L330.97 249.68 L331.74 249.68 L332.51 249.68 L333.29 249.68 L334.06 249.68 L334.83 249.68 L335.61 249.68 L336.38 249.68 L337.15 249.68 L337.93 249.68 L338.7 249.68 L339.47 249.68 L340.25 249.68 L341.02 249.68 L341.79 249.68 L342.57 249.68 L343.34 249.68 L344.11 249.68 L344.89 249.68 L345.66 249.68 L346.43 249.68 L347.21 249.68 L347.98 249.68 L348.75 249.68 L349.53 249.68 L350.3 249.68 L351.07 249.68 L351.85 249.68 L352.62 249.68 L353.39 249.68 L354.17 249.68 L354.94 249.68 L355.71 249.68 L356.49 249.68 L357.26 249.68 L358.03 249.68 L358.81 249.68 L359.58 249.68 L360.35 249.68 L361.13 249.68 L361.9 249.68 L362.67 249.68 L363.45 249.68 L364.22 249.68 L364.99 249.68 L365.77 249.68 L366.54 249.68 L367.31 249.68 L368.09 249.68 L368.86 249.68 L369.63 249.68 L370.41 249.68 L371.18 249.68 L371.95 249.68 L372.73 249.68 L373.5 249.68 L374.27 249.68 L375.05 249.68 L375.82 249.68 L376.59 249.68 L377.37 249.68 L378.14 249.68 L378.92 249.68 L379.69 249.67 L380.46 249.56 L381.24 249.34 L382.01 249.04 L382.78 248.67 L383.56 248.27 L384.33 247.71 L385.1 246.74 L385.88 245.44 L386.65 243.9 L387.42 242.2 L388.2 240.45 L388.97 238.71 L389.74 237.09 L390.52 235.66 L391.29 234.53 L392.06 233.77 L392.84 233.48 L393.61 234.28 L394.38 236.72 L395.16 240.51 L395.93 245.38 L396.7 251.07 L397.48 257.29 L398.25 263.77 L399.02 270.24 L399.8 276.41 L400.57 282.03 L401.34 286.81 L402.12 290.47 L402.89 292.75 L403.66 293.36 L404.44 292.09 L405.21 289.08 L405.98 284.61 L406.76 278.97 L407.53 272.42 L408.3 265.25 L409.08 257.72 L409.85 250.11 L410.62 242.7 L411.4 235.76 L412.17 229.56 L412.94 224.39 L413.72 220.52 L414.49 218.22 L415.26 217.73 L416.04 218.28 L416.81 219.49 L417.58 221.26 L418.36 223.49 L419.13 226.09 L419.9 228.96 L420.68 232.03 L421.45 235.18 L422.22 238.34 L423 241.4 L423.77 244.28 L424.54 246.88 L425.32 249.1 L426.09 250.87 L426.86 252.08 L427.64 252.64 L428.41 252.65 L429.18 252.57 L429.96 252.43 L430.73 252.25 L431.5 252.04 L432.28 251.79 L433.05 251.52 L433.82 251.25 L434.6 250.97 L435.37 250.69 L436.14 250.44 L436.92 250.2 L437.69 250 L438.46 249.84 L439.24 249.73 L440.01 249.68 L440.78 249.68 L441.56 249.68 L442.33 249.68 L443.1 249.68 L443.88 249.68 L444.65 249.68 L445.42 249.68 L446.2 249.68 L446.97 249.68 L447.74 249.68 L448.52 249.68 L449.29 249.68 L450.06 249.68 L450.84 249.68 L451.61 249.68 L452.38 249.68 L453.16 249.68 L453.93 249.68 L454.7 249.68 L455.48 249.68 L456.25 249.68 L457.02 249.68 L457.8 249.68 L458.57 249.68 L459.34 249.68 L460.12 249.68 L460.89 249.68 L461.66 249.68 L462.44 249.68 L463.21 249.68 L463.98 249.68 L464.76 249.68 L465.53 249.68 L466.3 249.68 L467.08 249.68 L467.85 249.68 L468.62 249.68 L469.4 249.68 L470.17 249.68 L470.94 249.68 L471.72 249.68 L472.49 249.68 L473.26 249.68 L474.04 249.68 L474.81 249.68 L475.58 249.68 L476.36 249.68 L477.13 249.68 L477.91 249.68 L478.68 249.68 L479.45 249.68 L480.23 249.68 L481 249.68 L481.77 249.68 L482.55 249.68 L483.32 249.68 L484.09 249.68 L484.87 249.68 L485.64 249.68 L486.41 249.68 L487.19 249.68 L487.96 249.68 L488.73 249.68 L489.51 249.68 L490.28 249.68 L491.05 249.68 L491.83 249.68 L492.6 249.68 L493.37 249.68 L494.15 249.68 L494.92 249.68 L495.69 249.68 L496.47 249.68 L497.24 249.68 L498.01 249.68 L498.79 249.68 L499.56 249.68 L500.33 249.68 L501.11 249.68 L501.88 249.68 L502.65 249.68 L503.43 249.68 L504.2 249.68 L504.97 249.68 L505.75 249.68 L506.52 249.68 L507.29 249.68 L508.07 249.68 L508.84 249.68 L509.61 249.68 L510.39 249.68 L511.16 249.68 L511.93 249.68 L512.71 249.68 L513.48 249.68 L514.25 249.68 L515.03 249.68 L515.8 249.68 L516.57 249.68 L517.35 249.68 L518.12 249.68 L518.89 249.68 L519.67 249.68 L520.44 249.68 L521.21 249.68 L521.99 249.68 L522.76 249.68 L523.53 249.68 L524.31 249.68 L525.08 249.68 L525.85 249.68 L526.63 249.68 L527.4 249.68" stroke="#00ff00" stroke-width="1.6"/>
<path d="M327.1 249.68 L327.87 249.68 L328.65 249.68 L329.42 249.68 L330.19 249.68 L330.97 249.68 L331.74 249.68 L332.51 249.68 L333.29 249.68 L334.06 249.68 L334.83 249.68 L335.61 249.68 L336.38 249.68 L337.15 249.68 L337.93 249.68 L338.7 249.68 L339.47 249.68 L340.25 249.68 L341.02 249.68 L341.79 249.68 L342.57 249.68 L343.34 249.68 L344.11 249.68 L344.89 249.68 L345.66 249.68 L346.43 249.68 L347.21 249.68 L347.98 249.68 L348.75 249.68 L349.53 249.68 L350.3 249.68 L351.07 249.68 L351.85 249.68 L352.62 249.68 L353.39 249.68 L354.17 249.68 L354.94 249.68 L355.71 249.68 L356.49 249.68 L357.26 249.68 L358.03 249.68 L358.81 249.68 L359.58 249.68 L360.35 249.68 L361.13 249.68 L361.9 249.68 L362.67 249.68 L363.45 249.68 L364.22 249.68 L364.99 249.68 L365.77 249.68 L366.54 249.68 L367.31 249.68 L368.09 249.68 L368.86 249.68 L369.63 249.68 L370.41 249.68 L371.18 249.68 L371.95 249.68 L372.73 249.68 L373.5 249.68 L374.27 249.68 L375.05 249.68 L375.82 249.68 L376.59 249.68 L377.37 249.68 L378.14 249.68 L378.92 249.68 L379.69 249.67 L380.46 249.56 L381.24 249.34 L382.01 249.04 L382.78 248.67 L383.56 248.27 L384.33 247.71 L385.1 246.74 L385.88 245.44 L386.65 243.9 L387.42 242.2 L388.2 240.45 L388.97 238.71 L389.74 237.09 L390.52 235.66 L391.29 234.53 L392.06 233.77 L392.84 233.48 L393.61 234.28 L394.38 236.72 L395.16 240.51 L395.93 245.38 L396.7 251.07 L397.48 257.29 L398.25 263.77 L399.02 270.24 L399.8 276.41 L400.57 282.03 L401.34 286.81 L402.12 290.47 L402.89 292.75 L403.66 293.36 L404.44 292.09 L405.21 289.08 L405.98 284.61 L406.76 278.97 L407.53 272.42 L408.3 265.25 L409.08 257.72 L409.85 250.11 L410.62 242.7 L411.4 235.76 L412.17 229.56 L412.94 224.39 L413.72 220.52 L414.49 218.22 L415.26 217.73 L416.04 218.28 L416.81 219.49 L417.58 221.26 L418.36 223.49 L419.13 226.09 L419.9 228.96 L420.68 232.03 L421.45 235.18 L422.22 238.34 L423 241.4 L423.77 244.28 L424.54 246.88 L425.32 249.1 L426.09 250.87 L426.86 252.08 L427.64 252.64 L428.41 252.65 L429.18 252.57 L429.96 252.43 L430.73 252.25 L431.5 252.04 L432.28 251.79 L433.05 251.52 L433.82 251.25 L434.6 250.97 L435.37 250.69 L436.14 250.44 L436.92 250.2 L437.69 250 L438.46 249.84 L439.24 249.73 L440.01 249.68 L440.78 249.68 L441.56 249.68 L442.33 249.68 L443.1 249.68 L443.88 249.68 L444.65 249.68 L445.42 249.68 L446.2 249.68 L446.97 249.68 L447.74 249.68 L448.52 249.68 L449.29 249.68 L450.06 249.68 L450.84 249.68 L451.61 249.68 L452.38 249.68 L453.16 249.68 L453.93 249.68 L454.7 249.68 L455.48 249.68 L456.25 249.68 L457.02 249.68 L457.8 249.68 L458.57 249.68 L459.34 249.68 L460.12 249.68 L460.89 249.68 L461.66 249.68 L462.44 249.68 L463.21 249.68 L463.98 249.68 L464.76 249.68 L465.53 249.68 L466.3 249.68 L467.08 249.68 L467.85 249.68 L468.62 249.68 L469.4 249.68 L470.17 249.68 L470.94 249.68 L471.72 249.68 L472.49 249.68 L473.26 249.68 L474.04 249.68 L474.81 249.68 L475.58 249.68 L476.36 249.68 L477.13 249.68 L477.91 249.68 L478.68 249.68 L479.45 249.68 L480.23 249.68 L481 249.68 L481.77 249.68 L482.55 249.68 L483.32 249.68 L484.09 249.68 L484.87 249.68 L485.64 249.68 L486.41 249.68 L487.19 249.68 L487.96 249.68 L488.73 249.68 L489.51 249.68 L490.28 249.68 L491.05 249.68 L491.83 249.68 L492.6 249.68 L493.37 249.68 L494.15 249.68 L494.92 249.68 L495.69 249.68 L496.47 249.68 L497.24 249.68 L498.01 249.68 L498.79 249.68 L499.56 249.68 L500.33 249.68 L501.11 249.68 L501.88 249.68 L502.65 249.68 L503.43 249.68 L504.2 249.68 L504.97 249.68 L505.75 249.68 L506.52 249.68 L507.29 249.68 L508.07 249.68 L508.84 249.68 L509.61 249.68 L510.39 249.68 L511.16 249.68 L511.93 249.68 L512.71 249.68 L513.48 249.68 L514.25 249.68 L515.03 249.68 L515.8 249.68 L516.57 249.68 L517.35 249.68 L518.12 249.68 L518.89 249.68 L519.67 249.68 L520.44 249.68 L521.21 249.68 L521.99 249.68 L522.76 249.68 L523.53 249.68 L524.31 249.68 L525.08 249.68 L525.85 249.68 L526.63 249.68 L527.4 249.68" stroke="#0000ff" stroke-width="1.6" stroke-dasharray="6.4 2.2 1.6 2.1"/>
</g>
<rect x="327.1" y="205.7" width="200.3" height="99.7" fill="none" stroke="#2e2e2e" stroke-width="1.0"/>
<path d="M327.1 205.7 v2.2 M327.1 305.4 v-2.2" stroke="#2e2e2e" stroke-width="0.8"/>
<text x="327.1" y="198.8" text-anchor="middle" class="tk">6</text>
<path d="M377.18 205.7 v2.2 M377.18 305.4 v-2.2" stroke="#2e2e2e" stroke-width="0.8"/>
<text x="377.18" y="198.8" text-anchor="middle" class="tk">6.5</text>
<path d="M427.25 205.7 v2.2 M427.25 305.4 v-2.2" stroke="#2e2e2e" stroke-width="0.8"/>
<text x="427.25" y="198.8" text-anchor="middle" class="tk">7</text>
<path d="M477.33 205.7 v2.2 M477.33 305.4 v-2.2" stroke="#2e2e2e" stroke-width="0.8"/>
<text x="477.33" y="198.8" text-anchor="middle" class="tk">7.5</text>
<path d="M527.4 205.7 v2.2 M527.4 305.4 v-2.2" stroke="#2e2e2e" stroke-width="0.8"/>
<text x="527.4" y="198.8" text-anchor="middle" class="tk">8</text>
<path d="M327.1 209.69 h2.2 M527.4 209.69 h-2.2" stroke="#2e2e2e" stroke-width="0.8"/>
<text x="322.5" y="214.29" text-anchor="end" class="tk">0.5</text>
<path d="M327.1 249.57 h2.2 M527.4 249.57 h-2.2" stroke="#2e2e2e" stroke-width="0.8"/>
<text x="322.5" y="254.17" text-anchor="end" class="tk">0</text>
<path d="M327.1 289.45 h2.2 M527.4 289.45 h-2.2" stroke="#2e2e2e" stroke-width="0.8"/>
<text x="322.5" y="294.05" text-anchor="end" class="tk">-0.5</text>
<text x="426.55" y="183.1" text-anchor="middle" class="lb">X (km)</text>
<text transform="translate(297.8 255.55) rotate(-90)" text-anchor="middle" class="lb">Amplitude</text>
<rect x="431.6" y="259.9" width="89" height="38.6" fill="#fff" stroke="#2e2e2e" stroke-width="0.9"/>
<path d="M435.2 267.4 h38.4" stroke="#ff0000" stroke-width="1.6"/>
<text x="477" y="270.6" class="lg">T2 2 ms</text>
<path d="M435.2 279.4 h38.4" stroke="#00ff00" stroke-width="1.6"/>
<text x="477" y="282.6" class="lg">T4 2 ms</text>
<path d="M435.2 291.4 h38.4" stroke="#0000ff" stroke-width="1.6" stroke-dasharray="6.4 2.2 1.6 2.1"/>
<text x="477" y="294.6" class="lg">T2 0.5 ms</text>
<rect x="42.5" y="377.5" width="200.2" height="99.9" fill="#fff"/>
<clipPath id="lclip5"><rect x="42.5" y="377.5" width="200.2" height="99.9"/></clipPath>
<g clip-path="url(#lclip5)" fill="none" stroke-linejoin="round">
<path d="M42.5 424.24 L43.27 424.24 L44.05 424.24 L44.82 424.24 L45.59 424.24 L46.36 424.24 L47.14 424.24 L47.91 424.24 L48.68 424.24 L49.46 424.24 L50.23 424.24 L51 424.24 L51.78 424.24 L52.55 424.24 L53.32 424.24 L54.09 424.24 L54.87 424.24 L55.64 424.24 L56.41 424.24 L57.19 424.24 L57.96 424.24 L58.73 424.24 L59.51 424.24 L60.28 424.24 L61.05 424.24 L61.82 424.24 L62.6 424.24 L63.37 424.24 L64.14 424.24 L64.92 424.24 L65.69 424.24 L66.46 424.24 L67.24 424.24 L68.01 424.24 L68.78 424.24 L69.55 424.24 L70.33 424.24 L71.1 424.24 L71.87 424.24 L72.65 424.24 L73.42 424.24 L74.19 424.24 L74.96 424.24 L75.74 424.24 L76.51 424.24 L77.28 424.24 L78.06 424.24 L78.83 424.22 L79.6 424 L80.38 423.64 L81.15 423.24 L81.92 422.91 L82.69 422.75 L83.47 422.89 L84.24 423.37 L85.01 424.11 L85.79 425.01 L86.56 425.99 L87.33 426.97 L88.11 427.86 L88.88 428.57 L89.65 429.02 L90.42 429.11 L91.2 428.29 L91.97 426.5 L92.74 423.97 L93.52 420.92 L94.29 417.58 L95.06 414.18 L95.84 410.93 L96.61 408.06 L97.38 405.8 L98.15 404.38 L98.93 404.03 L99.7 405.9 L100.47 410.04 L101.25 415.89 L102.02 422.87 L102.79 430.42 L103.56 437.96 L104.34 444.93 L105.11 450.74 L105.88 454.84 L106.66 456.64 L107.43 456.98 L108.2 457.06 L108.98 456.85 L109.75 456.26 L110.52 453.24 L111.29 447.84 L112.07 440.79 L112.84 432.76 L113.61 424.47 L114.39 416.61 L115.16 409.88 L115.93 404.98 L116.71 402.61 L117.48 402.94 L118.25 404.7 L119.02 407.32 L119.8 410.26 L120.57 413 L121.34 415.02 L122.12 416.71 L122.89 418.33 L123.66 419.83 L124.44 421.19 L125.21 422.35 L125.98 423.3 L126.75 424.17 L127.53 425.03 L128.3 425.83 L129.07 426.55 L129.85 427.14 L130.62 427.58 L131.39 427.82 L132.16 427.83 L132.94 427.49 L133.71 426.89 L134.48 426.12 L135.26 425.27 L136.03 424.46 L136.8 423.77 L137.58 423.31 L138.35 423.17 L139.12 423.25 L139.89 423.42 L140.67 423.66 L141.44 423.92 L142.21 424.19 L142.99 424.42 L143.76 424.59 L144.53 424.66 L145.31 424.65 L146.08 424.61 L146.85 424.55 L147.62 424.47 L148.4 424.4 L149.17 424.33 L149.94 424.27 L150.72 424.24 L151.49 424.24 L152.26 424.24 L153.04 424.24 L153.81 424.24 L154.58 424.24 L155.35 424.24 L156.13 424.24 L156.9 424.24 L157.67 424.24 L158.45 424.24 L159.22 424.24 L159.99 424.24 L160.76 424.24 L161.54 424.24 L162.31 424.24 L163.08 424.24 L163.86 424.24 L164.63 424.24 L165.4 424.24 L166.18 424.24 L166.95 424.24 L167.72 424.24 L168.49 424.24 L169.27 424.24 L170.04 424.24 L170.81 424.24 L171.59 424.24 L172.36 424.24 L173.13 424.24 L173.91 424.24 L174.68 424.24 L175.45 424.24 L176.22 424.24 L177 424.24 L177.77 424.24 L178.54 424.24 L179.32 424.24 L180.09 424.24 L180.86 424.24 L181.64 424.24 L182.41 424.24 L183.18 424.24 L183.95 424.24 L184.73 424.24 L185.5 424.24 L186.27 424.24 L187.05 424.24 L187.82 424.24 L188.59 424.24 L189.36 424.24 L190.14 424.24 L190.91 424.24 L191.68 424.24 L192.46 424.24 L193.23 424.24 L194 424.24 L194.78 424.24 L195.55 424.24 L196.32 424.24 L197.09 424.24 L197.87 424.24 L198.64 424.24 L199.41 424.24 L200.19 424.24 L200.96 424.24 L201.73 424.24 L202.51 424.24 L203.28 424.24 L204.05 424.24 L204.82 424.24 L205.6 424.24 L206.37 424.24 L207.14 424.24 L207.92 424.24 L208.69 424.24 L209.46 424.24 L210.24 424.24 L211.01 424.24 L211.78 424.24 L212.55 424.24 L213.33 424.24 L214.1 424.24 L214.87 424.24 L215.65 424.24 L216.42 424.24 L217.19 424.24 L217.96 424.24 L218.74 424.24 L219.51 424.24 L220.28 424.24 L221.06 424.24 L221.83 424.24 L222.6 424.24 L223.38 424.24 L224.15 424.24 L224.92 424.24 L225.69 424.24 L226.47 424.24 L227.24 424.24 L228.01 424.24 L228.79 424.24 L229.56 424.24 L230.33 424.24 L231.11 424.24 L231.88 424.24 L232.65 424.24 L233.42 424.24 L234.2 424.24 L234.97 424.24 L235.74 424.24 L236.52 424.24 L237.29 424.24 L238.06 424.24 L238.84 424.24 L239.61 424.24 L240.38 424.24 L241.15 424.24 L241.93 424.24 L242.7 424.24" stroke="#ff0000" stroke-width="1.6"/>
<path d="M42.5 424.24 L43.27 424.24 L44.05 424.24 L44.82 424.24 L45.59 424.24 L46.36 424.24 L47.14 424.24 L47.91 424.24 L48.68 424.24 L49.46 424.24 L50.23 424.24 L51 424.24 L51.78 424.24 L52.55 424.24 L53.32 424.24 L54.09 424.24 L54.87 424.24 L55.64 424.24 L56.41 424.24 L57.19 424.24 L57.96 424.24 L58.73 424.24 L59.51 424.24 L60.28 424.24 L61.05 424.24 L61.82 424.24 L62.6 424.24 L63.37 424.24 L64.14 424.24 L64.92 424.24 L65.69 424.24 L66.46 424.24 L67.24 424.24 L68.01 424.24 L68.78 424.24 L69.55 424.24 L70.33 424.24 L71.1 424.24 L71.87 424.24 L72.65 424.24 L73.42 424.24 L74.19 424.24 L74.96 424.24 L75.74 424.24 L76.51 424.24 L77.28 424.24 L78.06 424.24 L78.83 424.24 L79.6 424.24 L80.38 424.24 L81.15 424.24 L81.92 424.24 L82.69 424.24 L83.47 424.24 L84.24 424.24 L85.01 424.24 L85.79 424.24 L86.56 424.24 L87.33 424.24 L88.11 424.24 L88.88 424.24 L89.65 424.24 L90.42 424.24 L91.2 424.24 L91.97 424.11 L92.74 423.67 L93.52 422.95 L94.29 422.02 L95.06 420.92 L95.84 419.71 L96.61 418.45 L97.38 417.18 L98.15 415.96 L98.93 414.85 L99.7 413.89 L100.47 413.15 L101.25 412.67 L102.02 412.51 L102.79 413.43 L103.56 415.84 L104.34 419.44 L105.11 423.95 L105.88 429.08 L106.66 434.55 L107.43 440.06 L108.2 445.33 L108.98 450.07 L109.75 453.99 L110.52 456.81 L111.29 458.24 L112.07 457.81 L112.84 454.95 L113.61 450.02 L114.39 443.49 L115.16 435.79 L115.93 427.39 L116.71 418.72 L117.48 410.25 L118.25 402.43 L119.02 395.69 L119.8 390.51 L120.57 387.31 L121.34 386.55 L122.12 388.08 L122.89 391.4 L123.66 396.15 L124.44 401.94 L125.21 408.39 L125.98 415.1 L126.75 421.71 L127.53 427.82 L128.3 433.05 L129.07 437.03 L129.85 439.35 L130.62 439.72 L131.39 438.7 L132.16 436.76 L132.94 434.2 L133.71 431.33 L134.48 428.43 L135.26 425.83 L136.03 423.81 L136.8 422.67 L137.58 422.61 L138.35 423.1 L139.12 423.9 L139.89 424.85 L140.67 425.79 L141.44 426.55 L142.21 426.97 L142.99 426.92 L143.76 426.49 L144.53 425.8 L145.31 424.97 L146.08 424.11 L146.85 423.34 L147.62 422.77 L148.4 422.53 L149.17 422.65 L149.94 422.99 L150.72 423.47 L151.49 424.02 L152.26 424.56 L153.04 425 L153.81 425.26 L154.58 425.29 L155.35 425.13 L156.13 424.87 L156.9 424.55 L157.67 424.24 L158.45 423.98 L159.22 423.83 L159.99 423.83 L160.76 423.92 L161.54 424.08 L162.31 424.26 L163.08 424.44 L163.86 424.58 L164.63 424.66 L165.4 424.65 L166.18 424.6 L166.95 424.52 L167.72 424.43 L168.49 424.34 L169.27 424.27 L170.04 424.24 L170.81 424.24 L171.59 424.24 L172.36 424.24 L173.13 424.24 L173.91 424.24 L174.68 424.24 L175.45 424.24 L176.22 424.24 L177 424.24 L177.77 424.24 L178.54 424.24 L179.32 424.24 L180.09 424.24 L180.86 424.24 L181.64 424.24 L182.41 424.24 L183.18 424.24 L183.95 424.24 L184.73 424.24 L185.5 424.24 L186.27 424.24 L187.05 424.24 L187.82 424.24 L188.59 424.24 L189.36 424.24 L190.14 424.24 L190.91 424.24 L191.68 424.24 L192.46 424.24 L193.23 424.24 L194 424.24 L194.78 424.24 L195.55 424.24 L196.32 424.24 L197.09 424.24 L197.87 424.24 L198.64 424.24 L199.41 424.24 L200.19 424.24 L200.96 424.24 L201.73 424.24 L202.51 424.24 L203.28 424.24 L204.05 424.24 L204.82 424.24 L205.6 424.24 L206.37 424.24 L207.14 424.24 L207.92 424.24 L208.69 424.24 L209.46 424.24 L210.24 424.24 L211.01 424.24 L211.78 424.24 L212.55 424.24 L213.33 424.24 L214.1 424.24 L214.87 424.24 L215.65 424.24 L216.42 424.24 L217.19 424.24 L217.96 424.24 L218.74 424.24 L219.51 424.24 L220.28 424.24 L221.06 424.24 L221.83 424.24 L222.6 424.24 L223.38 424.24 L224.15 424.24 L224.92 424.24 L225.69 424.24 L226.47 424.24 L227.24 424.24 L228.01 424.24 L228.79 424.24 L229.56 424.24 L230.33 424.24 L231.11 424.24 L231.88 424.24 L232.65 424.24 L233.42 424.24 L234.2 424.24 L234.97 424.24 L235.74 424.24 L236.52 424.24 L237.29 424.24 L238.06 424.24 L238.84 424.24 L239.61 424.24 L240.38 424.24 L241.15 424.24 L241.93 424.24 L242.7 424.24" stroke="#00ff00" stroke-width="1.6"/>
<path d="M42.5 424.24 L43.27 424.24 L44.05 424.24 L44.82 424.24 L45.59 424.24 L46.36 424.24 L47.14 424.24 L47.91 424.24 L48.68 424.24 L49.46 424.24 L50.23 424.24 L51 424.24 L51.78 424.24 L52.55 424.24 L53.32 424.24 L54.09 424.24 L54.87 424.24 L55.64 424.24 L56.41 424.24 L57.19 424.24 L57.96 424.24 L58.73 424.24 L59.51 424.24 L60.28 424.24 L61.05 424.24 L61.82 424.24 L62.6 424.24 L63.37 424.24 L64.14 424.24 L64.92 424.24 L65.69 424.24 L66.46 424.24 L67.24 424.24 L68.01 424.24 L68.78 424.24 L69.55 424.24 L70.33 424.24 L71.1 424.24 L71.87 424.24 L72.65 424.24 L73.42 424.24 L74.19 424.24 L74.96 424.24 L75.74 424.24 L76.51 424.24 L77.28 424.24 L78.06 424.24 L78.83 424.24 L79.6 424.24 L80.38 424.24 L81.15 424.24 L81.92 424.24 L82.69 424.24 L83.47 424.24 L84.24 424.24 L85.01 424.24 L85.79 424.24 L86.56 424.24 L87.33 424.24 L88.11 424.24 L88.88 424.24 L89.65 424.24 L90.42 424.24 L91.2 424.24 L91.97 424.11 L92.74 423.67 L93.52 422.95 L94.29 422.02 L95.06 420.92 L95.84 419.71 L96.61 418.45 L97.38 417.18 L98.15 415.96 L98.93 414.85 L99.7 413.89 L100.47 413.15 L101.25 412.67 L102.02 412.51 L102.79 413.46 L103.56 415.92 L104.34 419.6 L105.11 424.22 L105.88 429.47 L106.66 435.06 L107.43 440.7 L108.2 446.09 L108.98 450.94 L109.75 454.96 L110.52 457.84 L111.29 459.3 L112.07 458.87 L112.84 455.96 L113.61 450.97 L114.39 444.33 L115.16 436.52 L115.93 427.99 L116.71 419.2 L117.48 410.61 L118.25 402.66 L119.02 395.83 L119.8 390.56 L120.57 387.33 L121.34 386.55 L122.12 387.91 L122.89 390.89 L123.66 395.15 L124.44 400.34 L125.21 406.11 L125.98 412.13 L126.75 418.05 L127.53 423.52 L128.3 428.21 L129.07 431.77 L129.85 433.86 L130.62 434.21 L131.39 433.55 L132.16 432.31 L132.94 430.66 L133.71 428.82 L134.48 426.96 L135.26 425.29 L136.03 423.99 L136.8 423.26 L137.58 423.22 L138.35 423.5 L139.12 423.95 L139.89 424.5 L140.67 425.04 L141.44 425.47 L142.21 425.71 L142.99 425.68 L143.76 425.44 L144.53 425.04 L145.31 424.56 L146.08 424.07 L146.85 423.63 L147.62 423.31 L148.4 423.17 L149.17 423.24 L149.94 423.45 L150.72 423.75 L151.49 424.09 L152.26 424.42 L153.04 424.69 L153.81 424.85 L154.58 424.87 L155.35 424.78 L156.13 424.63 L156.9 424.45 L157.67 424.27 L158.45 424.12 L159.22 424.04 L159.99 424.03 L160.76 424.08 L161.54 424.16 L162.31 424.25 L163.08 424.34 L163.86 424.41 L164.63 424.45 L165.4 424.45 L166.18 424.42 L166.95 424.38 L167.72 424.34 L168.49 424.29 L169.27 424.26 L170.04 424.24 L170.81 424.24 L171.59 424.24 L172.36 424.24 L173.13 424.24 L173.91 424.24 L174.68 424.24 L175.45 424.24 L176.22 424.24 L177 424.24 L177.77 424.24 L178.54 424.24 L179.32 424.24 L180.09 424.24 L180.86 424.24 L181.64 424.24 L182.41 424.24 L183.18 424.24 L183.95 424.24 L184.73 424.24 L185.5 424.24 L186.27 424.24 L187.05 424.24 L187.82 424.24 L188.59 424.24 L189.36 424.24 L190.14 424.24 L190.91 424.24 L191.68 424.24 L192.46 424.24 L193.23 424.24 L194 424.24 L194.78 424.24 L195.55 424.24 L196.32 424.24 L197.09 424.24 L197.87 424.24 L198.64 424.24 L199.41 424.24 L200.19 424.24 L200.96 424.24 L201.73 424.24 L202.51 424.24 L203.28 424.24 L204.05 424.24 L204.82 424.24 L205.6 424.24 L206.37 424.24 L207.14 424.24 L207.92 424.24 L208.69 424.24 L209.46 424.24 L210.24 424.24 L211.01 424.24 L211.78 424.24 L212.55 424.24 L213.33 424.24 L214.1 424.24 L214.87 424.24 L215.65 424.24 L216.42 424.24 L217.19 424.24 L217.96 424.24 L218.74 424.24 L219.51 424.24 L220.28 424.24 L221.06 424.24 L221.83 424.24 L222.6 424.24 L223.38 424.24 L224.15 424.24 L224.92 424.24 L225.69 424.24 L226.47 424.24 L227.24 424.24 L228.01 424.24 L228.79 424.24 L229.56 424.24 L230.33 424.24 L231.11 424.24 L231.88 424.24 L232.65 424.24 L233.42 424.24 L234.2 424.24 L234.97 424.24 L235.74 424.24 L236.52 424.24 L237.29 424.24 L238.06 424.24 L238.84 424.24 L239.61 424.24 L240.38 424.24 L241.15 424.24 L241.93 424.24 L242.7 424.24" stroke="#0000ff" stroke-width="1.6" stroke-dasharray="6.4 2.2 1.6 2.1"/>
</g>
<rect x="42.5" y="377.5" width="200.2" height="99.9" fill="none" stroke="#2e2e2e" stroke-width="1.0"/>
<path d="M42.5 377.5 v2.2 M42.5 477.4 v-2.2" stroke="#2e2e2e" stroke-width="0.8"/>
<text x="42.5" y="370.6" text-anchor="middle" class="tk">7.5</text>
<path d="M92.55 377.5 v2.2 M92.55 477.4 v-2.2" stroke="#2e2e2e" stroke-width="0.8"/>
<text x="92.55" y="370.6" text-anchor="middle" class="tk">8</text>
<path d="M142.6 377.5 v2.2 M142.6 477.4 v-2.2" stroke="#2e2e2e" stroke-width="0.8"/>
<text x="142.6" y="370.6" text-anchor="middle" class="tk">8.5</text>
<path d="M192.65 377.5 v2.2 M192.65 477.4 v-2.2" stroke="#2e2e2e" stroke-width="0.8"/>
<text x="192.65" y="370.6" text-anchor="middle" class="tk">9</text>
<path d="M242.7 377.5 v2.2 M242.7 477.4 v-2.2" stroke="#2e2e2e" stroke-width="0.8"/>
<text x="242.7" y="370.6" text-anchor="middle" class="tk">9.5</text>
<path d="M42.5 381.75 h2.2 M242.7 381.75 h-2.2" stroke="#2e2e2e" stroke-width="0.8"/>
<text x="37.9" y="386.35" text-anchor="end" class="tk">0.2</text>
<path d="M42.5 424.26 h2.2 M242.7 424.26 h-2.2" stroke="#2e2e2e" stroke-width="0.8"/>
<text x="37.9" y="428.86" text-anchor="end" class="tk">0</text>
<path d="M42.5 466.77 h2.2 M242.7 466.77 h-2.2" stroke="#2e2e2e" stroke-width="0.8"/>
<text x="37.9" y="471.37" text-anchor="end" class="tk">-0.2</text>
<text x="141.9" y="354.9" text-anchor="middle" class="lb">X (km)</text>
<text transform="translate(13.2 427.45) rotate(-90)" text-anchor="middle" class="lb">Amplitude</text>
<rect x="145.5" y="431.6" width="88.9" height="39" fill="#fff" stroke="#2e2e2e" stroke-width="0.9"/>
<path d="M149.1 439.1 h38.4" stroke="#ff0000" stroke-width="1.6"/>
<text x="190.9" y="442.3" class="lg">T2 2 ms</text>
<path d="M149.1 451.1 h38.4" stroke="#00ff00" stroke-width="1.6"/>
<text x="190.9" y="454.3" class="lg">T4 2 ms</text>
<path d="M149.1 463.1 h38.4" stroke="#0000ff" stroke-width="1.6" stroke-dasharray="6.4 2.2 1.6 2.1"/>
<text x="190.9" y="466.3" class="lg">T2 0.5 ms</text>
<rect x="326.4" y="376.6" width="200.9" height="100.7" fill="#fff"/>
<clipPath id="lclip6"><rect x="326.4" y="376.6" width="200.9" height="100.7"/></clipPath>
<g clip-path="url(#lclip6)" fill="none" stroke-linejoin="round">
<path d="M326.4 421.04 L327.18 421.04 L327.95 421.04 L328.73 421.04 L329.5 421.04 L330.28 421.04 L331.05 421.04 L331.83 421.04 L332.61 421.04 L333.38 421.04 L334.16 421.04 L334.93 421.04 L335.71 421.04 L336.48 421.04 L337.26 421.04 L338.04 421.04 L338.81 421.04 L339.59 421.04 L340.36 421.04 L341.14 421.04 L341.91 421.04 L342.69 421.04 L343.46 421.04 L344.24 421.04 L345.02 421.04 L345.79 421.04 L346.57 421.04 L347.34 421.04 L348.12 421.04 L348.89 421.04 L349.67 421.04 L350.45 421.04 L351.22 421.04 L352 421.04 L352.77 421.04 L353.55 421.04 L354.32 421.04 L355.1 421.04 L355.88 421.04 L356.65 421.04 L357.43 421.04 L358.2 421.04 L358.98 421.04 L359.75 421.04 L360.53 421.04 L361.31 421.04 L362.08 421.04 L362.86 421.04 L363.63 421.03 L364.41 420.71 L365.18 420.24 L365.96 419.98 L366.74 420.09 L367.51 420.43 L368.29 420.91 L369.06 421.45 L369.84 421.95 L370.61 422.34 L371.39 422.53 L372.16 422.31 L372.94 421.5 L373.72 420.31 L374.49 418.97 L375.27 417.72 L376.04 416.77 L376.82 416.35 L377.59 416.86 L378.37 418.39 L379.15 420.62 L379.92 423.24 L380.7 425.93 L381.47 428.36 L382.25 430.23 L383.02 431.2 L383.8 430.73 L384.58 428.12 L385.35 423.83 L386.13 418.39 L386.9 412.34 L387.68 406.21 L388.45 400.54 L389.23 395.86 L390.01 392.71 L390.78 391.62 L391.56 392.82 L392.33 395.96 L393.11 400.69 L393.88 406.65 L394.66 413.48 L395.44 420.81 L396.21 428.3 L396.99 435.57 L397.76 442.27 L398.54 448.05 L399.31 452.54 L400.09 455.37 L400.86 456.21 L401.64 455.25 L402.42 452.93 L403.19 449.49 L403.97 445.16 L404.74 440.18 L405.52 434.79 L406.29 429.22 L407.07 423.71 L407.85 418.5 L408.62 413.82 L409.4 409.91 L410.17 407.01 L410.95 405.35 L411.72 405.08 L412.5 405.47 L413.28 406.22 L414.05 407.23 L414.83 408.41 L415.6 409.66 L416.38 410.88 L417.15 412.06 L417.93 413.49 L418.71 415.06 L419.48 416.6 L420.26 417.94 L421.03 418.92 L421.81 419.61 L422.58 420.22 L423.36 420.74 L424.14 421.18 L424.91 421.54 L425.69 421.82 L426.46 422.08 L427.24 422.27 L428.01 422.32 L428.79 422.27 L429.56 422.17 L430.34 422.03 L431.12 421.86 L431.89 421.68 L432.67 421.5 L433.44 421.33 L434.22 421.19 L434.99 421.09 L435.77 421.04 L436.55 421.04 L437.32 421.04 L438.1 421.04 L438.87 421.04 L439.65 421.04 L440.42 421.04 L441.2 421.04 L441.98 421.04 L442.75 421.04 L443.53 421.04 L444.3 421.04 L445.08 421.04 L445.85 421.04 L446.63 421.04 L447.41 421.04 L448.18 421.04 L448.96 421.04 L449.73 421.04 L450.51 421.04 L451.28 421.04 L452.06 421.04 L452.84 421.04 L453.61 421.04 L454.39 421.04 L455.16 421.04 L455.94 421.04 L456.71 421.04 L457.49 421.04 L458.26 421.04 L459.04 421.04 L459.82 421.04 L460.59 421.04 L461.37 421.04 L462.14 421.04 L462.92 421.04 L463.69 421.04 L464.47 421.04 L465.25 421.04 L466.02 421.04 L466.8 421.04 L467.57 421.04 L468.35 421.04 L469.12 421.04 L469.9 421.04 L470.68 421.04 L471.45 421.04 L472.23 421.04 L473 421.04 L473.78 421.04 L474.55 421.04 L475.33 421.04 L476.11 421.04 L476.88 421.04 L477.66 421.04 L478.43 421.04 L479.21 421.04 L479.98 421.04 L480.76 421.04 L481.54 421.04 L482.31 421.04 L483.09 421.04 L483.86 421.04 L484.64 421.04 L485.41 421.04 L486.19 421.04 L486.96 421.04 L487.74 421.04 L488.52 421.04 L489.29 421.04 L490.07 421.04 L490.84 421.04 L491.62 421.04 L492.39 421.04 L493.17 421.04 L493.95 421.04 L494.72 421.04 L495.5 421.04 L496.27 421.04 L497.05 421.04 L497.82 421.04 L498.6 421.04 L499.38 421.04 L500.15 421.04 L500.93 421.04 L501.7 421.04 L502.48 421.04 L503.25 421.04 L504.03 421.04 L504.81 421.04 L505.58 421.04 L506.36 421.04 L507.13 421.04 L507.91 421.04 L508.68 421.04 L509.46 421.04 L510.24 421.04 L511.01 421.04 L511.79 421.04 L512.56 421.04 L513.34 421.04 L514.11 421.04 L514.89 421.04 L515.66 421.04 L516.44 421.04 L517.22 421.04 L517.99 421.04 L518.77 421.04 L519.54 421.04 L520.32 421.04 L521.09 421.04 L521.87 421.04 L522.65 421.04 L523.42 421.04 L524.2 421.04 L524.97 421.04 L525.75 421.04 L526.52 421.04 L527.3 421.04" stroke="#ff0000" stroke-width="1.6"/>
<path d="M326.4 421.04 L327.18 421.04 L327.95 421.04 L328.73 421.04 L329.5 421.04 L330.28 421.04 L331.05 421.04 L331.83 421.04 L332.61 421.04 L333.38 421.04 L334.16 421.04 L334.93 421.04 L335.71 421.04 L336.48 421.04 L337.26 421.04 L338.04 421.04 L338.81 421.04 L339.59 421.04 L340.36 421.04 L341.14 421.04 L341.91 421.04 L342.69 421.04 L343.46 421.04 L344.24 421.04 L345.02 421.04 L345.79 421.04 L346.57 421.04 L347.34 421.04 L348.12 421.04 L348.89 421.04 L349.67 421.04 L350.45 421.04 L351.22 421.04 L352 421.04 L352.77 421.04 L353.55 421.04 L354.32 421.04 L355.1 421.04 L355.88 421.04 L356.65 421.04 L357.43 421.04 L358.2 421.04 L358.98 421.04 L359.75 421.04 L360.53 421.04 L361.31 421.04 L362.08 421.04 L362.86 421.04 L363.63 421.04 L364.41 421.04 L365.18 421.04 L365.96 421.04 L366.74 421.04 L367.51 421.04 L368.29 421.04 L369.06 421.04 L369.84 421.04 L370.61 421.04 L371.39 421.04 L372.16 421.04 L372.94 421.04 L373.72 421.04 L374.49 421.04 L375.27 421.04 L376.04 421.04 L376.82 421.04 L377.59 421.04 L378.37 421.04 L379.15 421.04 L379.92 421.04 L380.7 421.04 L381.47 421.04 L382.25 421.04 L383.02 421.03 L383.8 420.9 L384.58 420.68 L385.35 420.37 L386.13 420 L386.9 419.58 L387.68 419.07 L388.45 418.05 L389.23 416.55 L390.01 414.69 L390.78 412.6 L391.56 410.42 L392.33 408.27 L393.11 406.28 L393.88 404.59 L394.66 403.32 L395.44 402.6 L396.21 402.82 L396.99 405.69 L397.76 411.06 L398.54 418.31 L399.31 426.86 L400.09 436.12 L400.86 445.49 L401.64 454.37 L402.42 462.18 L403.19 468.32 L403.97 472.2 L404.74 473.22 L405.52 470.72 L406.29 465.06 L407.07 456.94 L407.85 447.03 L408.62 436.03 L409.4 424.62 L410.17 413.49 L410.95 403.33 L411.72 394.81 L412.5 388.63 L413.28 385.48 L414.05 385.46 L414.83 386.76 L415.6 389.01 L416.38 392.03 L417.15 395.64 L417.93 399.66 L418.71 403.91 L419.48 408.2 L420.26 412.36 L421.03 416.19 L421.81 419.52 L422.58 422.16 L423.36 423.93 L424.14 424.66 L424.91 424.62 L425.69 424.48 L426.46 424.25 L427.24 423.96 L428.01 423.62 L428.79 423.24 L429.56 422.85 L430.34 422.45 L431.12 422.08 L431.89 421.74 L432.67 421.44 L433.44 421.22 L434.22 421.08 L434.99 421.04 L435.77 421.04 L436.55 421.04 L437.32 421.04 L438.1 421.04 L438.87 421.04 L439.65 421.04 L440.42 421.04 L441.2 421.04 L441.98 421.04 L442.75 421.04 L443.53 421.04 L444.3 421.04 L445.08 421.04 L445.85 421.04 L446.63 421.04 L447.41 421.04 L448.18 421.04 L448.96 421.04 L449.73 421.04 L450.51 421.04 L451.28 421.04 L452.06 421.04 L452.84 421.04 L453.61 421.04 L454.39 421.04 L455.16 421.04 L455.94 421.04 L456.71 421.04 L457.49 421.04 L458.26 421.04 L459.04 421.04 L459.82 421.04 L460.59 421.04 L461.37 421.04 L462.14 421.04 L462.92 421.04 L463.69 421.04 L464.47 421.04 L465.25 421.04 L466.02 421.04 L466.8 421.04 L467.57 421.04 L468.35 421.04 L469.12 421.04 L469.9 421.04 L470.68 421.04 L471.45 421.04 L472.23 421.04 L473 421.04 L473.78 421.04 L474.55 421.04 L475.33 421.04 L476.11 421.04 L476.88 421.04 L477.66 421.04 L478.43 421.04 L479.21 421.04 L479.98 421.04 L480.76 421.04 L481.54 421.04 L482.31 421.04 L483.09 421.04 L483.86 421.04 L484.64 421.04 L485.41 421.04 L486.19 421.04 L486.96 421.04 L487.74 421.04 L488.52 421.04 L489.29 421.04 L490.07 421.04 L490.84 421.04 L491.62 421.04 L492.39 421.04 L493.17 421.04 L493.95 421.04 L494.72 421.04 L495.5 421.04 L496.27 421.04 L497.05 421.04 L497.82 421.04 L498.6 421.04 L499.38 421.04 L500.15 421.04 L500.93 421.04 L501.7 421.04 L502.48 421.04 L503.25 421.04 L504.03 421.04 L504.81 421.04 L505.58 421.04 L506.36 421.04 L507.13 421.04 L507.91 421.04 L508.68 421.04 L509.46 421.04 L510.24 421.04 L511.01 421.04 L511.79 421.04 L512.56 421.04 L513.34 421.04 L514.11 421.04 L514.89 421.04 L515.66 421.04 L516.44 421.04 L517.22 421.04 L517.99 421.04 L518.77 421.04 L519.54 421.04 L520.32 421.04 L521.09 421.04 L521.87 421.04 L522.65 421.04 L523.42 421.04 L524.2 421.04 L524.97 421.04 L525.75 421.04 L526.52 421.04 L527.3 421.04" stroke="#00ff00" stroke-width="1.6"/>
<path d="M326.4 421.04 L327.18 421.04 L327.95 421.04 L328.73 421.04 L329.5 421.04 L330.28 421.04 L331.05 421.04 L331.83 421.04 L332.61 421.04 L333.38 421.04 L334.16 421.04 L334.93 421.04 L335.71 421.04 L336.48 421.04 L337.26 421.04 L338.04 421.04 L338.81 421.04 L339.59 421.04 L340.36 421.04 L341.14 421.04 L341.91 421.04 L342.69 421.04 L343.46 421.04 L344.24 421.04 L345.02 421.04 L345.79 421.04 L346.57 421.04 L347.34 421.04 L348.12 421.04 L348.89 421.04 L349.67 421.04 L350.45 421.04 L351.22 421.04 L352 421.04 L352.77 421.04 L353.55 421.04 L354.32 421.04 L355.1 421.04 L355.88 421.04 L356.65 421.04 L357.43 421.04 L358.2 421.04 L358.98 421.04 L359.75 421.04 L360.53 421.04 L361.31 421.04 L362.08 421.04 L362.86 421.04 L363.63 421.04 L364.41 421.04 L365.18 421.04 L365.96 421.04 L366.74 421.04 L367.51 421.04 L368.29 421.04 L369.06 421.04 L369.84 421.04 L370.61 421.04 L371.39 421.04 L372.16 421.04 L372.94 421.04 L373.72 421.04 L374.49 421.04 L375.27 421.04 L376.04 421.04 L376.82 421.04 L377.59 421.04 L378.37 421.04 L379.15 421.04 L379.92 421.04 L380.7 421.04 L381.47 421.04 L382.25 421.04 L383.02 421.03 L383.8 420.9 L384.58 420.68 L385.35 420.37 L386.13 420 L386.9 419.58 L387.68 419.07 L388.45 418.05 L389.23 416.55 L390.01 414.69 L390.78 412.6 L391.56 410.42 L392.33 408.27 L393.11 406.28 L393.88 404.59 L394.66 403.32 L395.44 402.6 L396.21 402.82 L396.99 405.69 L397.76 411.06 L398.54 418.31 L399.31 426.86 L400.09 436.12 L400.86 445.49 L401.64 454.37 L402.42 462.18 L403.19 468.32 L403.97 472.2 L404.74 473.22 L405.52 470.72 L406.29 465.06 L407.07 456.94 L407.85 447.03 L408.62 436.03 L409.4 424.62 L410.17 413.49 L410.95 403.33 L411.72 394.81 L412.5 388.63 L413.28 385.48 L414.05 385.46 L414.83 386.76 L415.6 389.01 L416.38 392.03 L417.15 395.64 L417.93 399.66 L418.71 403.91 L419.48 408.2 L420.26 412.36 L421.03 416.19 L421.81 419.52 L422.58 422.16 L423.36 423.93 L424.14 424.66 L424.91 424.62 L425.69 424.48 L426.46 424.25 L427.24 423.96 L428.01 423.62 L428.79 423.24 L429.56 422.85 L430.34 422.45 L431.12 422.08 L431.89 421.74 L432.67 421.44 L433.44 421.22 L434.22 421.08 L434.99 421.04 L435.77 421.04 L436.55 421.04 L437.32 421.04 L438.1 421.04 L438.87 421.04 L439.65 421.04 L440.42 421.04 L441.2 421.04 L441.98 421.04 L442.75 421.04 L443.53 421.04 L444.3 421.04 L445.08 421.04 L445.85 421.04 L446.63 421.04 L447.41 421.04 L448.18 421.04 L448.96 421.04 L449.73 421.04 L450.51 421.04 L451.28 421.04 L452.06 421.04 L452.84 421.04 L453.61 421.04 L454.39 421.04 L455.16 421.04 L455.94 421.04 L456.71 421.04 L457.49 421.04 L458.26 421.04 L459.04 421.04 L459.82 421.04 L460.59 421.04 L461.37 421.04 L462.14 421.04 L462.92 421.04 L463.69 421.04 L464.47 421.04 L465.25 421.04 L466.02 421.04 L466.8 421.04 L467.57 421.04 L468.35 421.04 L469.12 421.04 L469.9 421.04 L470.68 421.04 L471.45 421.04 L472.23 421.04 L473 421.04 L473.78 421.04 L474.55 421.04 L475.33 421.04 L476.11 421.04 L476.88 421.04 L477.66 421.04 L478.43 421.04 L479.21 421.04 L479.98 421.04 L480.76 421.04 L481.54 421.04 L482.31 421.04 L483.09 421.04 L483.86 421.04 L484.64 421.04 L485.41 421.04 L486.19 421.04 L486.96 421.04 L487.74 421.04 L488.52 421.04 L489.29 421.04 L490.07 421.04 L490.84 421.04 L491.62 421.04 L492.39 421.04 L493.17 421.04 L493.95 421.04 L494.72 421.04 L495.5 421.04 L496.27 421.04 L497.05 421.04 L497.82 421.04 L498.6 421.04 L499.38 421.04 L500.15 421.04 L500.93 421.04 L501.7 421.04 L502.48 421.04 L503.25 421.04 L504.03 421.04 L504.81 421.04 L505.58 421.04 L506.36 421.04 L507.13 421.04 L507.91 421.04 L508.68 421.04 L509.46 421.04 L510.24 421.04 L511.01 421.04 L511.79 421.04 L512.56 421.04 L513.34 421.04 L514.11 421.04 L514.89 421.04 L515.66 421.04 L516.44 421.04 L517.22 421.04 L517.99 421.04 L518.77 421.04 L519.54 421.04 L520.32 421.04 L521.09 421.04 L521.87 421.04 L522.65 421.04 L523.42 421.04 L524.2 421.04 L524.97 421.04 L525.75 421.04 L526.52 421.04 L527.3 421.04" stroke="#0000ff" stroke-width="1.6" stroke-dasharray="6.4 2.2 1.6 2.1"/>
</g>
<rect x="326.4" y="376.6" width="200.9" height="100.7" fill="none" stroke="#2e2e2e" stroke-width="1.0"/>
<path d="M346.49 376.6 v2.2 M346.49 477.3 v-2.2" stroke="#2e2e2e" stroke-width="0.8"/>
<text x="346.49" y="369.7" text-anchor="middle" class="tk">7</text>
<path d="M396.71 376.6 v2.2 M396.71 477.3 v-2.2" stroke="#2e2e2e" stroke-width="0.8"/>
<text x="396.71" y="369.7" text-anchor="middle" class="tk">7.5</text>
<path d="M446.94 376.6 v2.2 M446.94 477.3 v-2.2" stroke="#2e2e2e" stroke-width="0.8"/>
<text x="446.94" y="369.7" text-anchor="middle" class="tk">8</text>
<path d="M497.16 376.6 v2.2 M497.16 477.3 v-2.2" stroke="#2e2e2e" stroke-width="0.8"/>
<text x="497.16" y="369.7" text-anchor="middle" class="tk">8.5</text>
<path d="M326.4 395.48 h2.2 M527.3 395.48 h-2.2" stroke="#2e2e2e" stroke-width="0.8"/>
<text x="321.8" y="400.08" text-anchor="end" class="tk">0.2</text>
<path d="M326.4 420.66 h2.2 M527.3 420.66 h-2.2" stroke="#2e2e2e" stroke-width="0.8"/>
<text x="321.8" y="425.26" text-anchor="end" class="tk">0</text>
<path d="M326.4 445.83 h2.2 M527.3 445.83 h-2.2" stroke="#2e2e2e" stroke-width="0.8"/>
<text x="321.8" y="450.43" text-anchor="end" class="tk">-0.2</text>
<path d="M326.4 471.01 h2.2 M527.3 471.01 h-2.2" stroke="#2e2e2e" stroke-width="0.8"/>
<text x="321.8" y="475.61" text-anchor="end" class="tk">-0.4</text>
<text x="426.15" y="354" text-anchor="middle" class="lb">X (km)</text>
<text transform="translate(297.1 426.95) rotate(-90)" text-anchor="middle" class="lb">Amplitude</text>
<rect x="430.7" y="432.5" width="89" height="38.9" fill="#fff" stroke="#2e2e2e" stroke-width="0.9"/>
<path d="M434.3 440 h38.4" stroke="#ff0000" stroke-width="1.6"/>
<text x="476.1" y="443.2" class="lg">T2 2 ms</text>
<path d="M434.3 452 h38.4" stroke="#00ff00" stroke-width="1.6"/>
<text x="476.1" y="455.2" class="lg">T4 2 ms</text>
<path d="M434.3 464 h38.4" stroke="#0000ff" stroke-width="1.6" stroke-dasharray="6.4 2.2 1.6 2.1"/>
<text x="476.1" y="467.2" class="lg">T2 0.5 ms</text>
<text x="134" y="165.4" text-anchor="middle" class="cap">(<tspan font-weight="bold">a</tspan>)</text>
<text x="418.5" y="165.2" text-anchor="middle" class="cap">(<tspan font-weight="bold">b</tspan>)</text>
<text x="134" y="336.5" text-anchor="middle" class="cap">(<tspan font-weight="bold">c</tspan>)</text>
<text x="418.5" y="336.4" text-anchor="middle" class="cap">(<tspan font-weight="bold">d</tspan>)</text>
<text x="134" y="509.2" text-anchor="middle" class="cap">(<tspan font-weight="bold">e</tspan>)</text>
<text x="418.5" y="509" text-anchor="middle" class="cap">(<tspan font-weight="bold">f</tspan>)</text>
</svg></body></html>
